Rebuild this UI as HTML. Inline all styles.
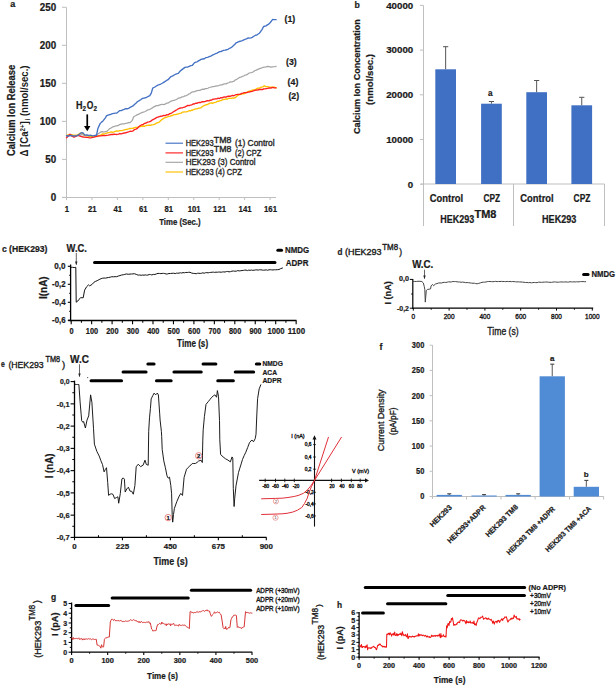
<!DOCTYPE html>
<html><head><meta charset="utf-8"><style>
html,body{margin:0;padding:0;background:#fff;}
svg{display:block;font-family:"Liberation Sans", sans-serif;}
</style></head><body>
<svg width="616" height="685" viewBox="0 0 616 685">
<rect width="616" height="685" fill="#fff"/>
<text x="10.3" y="7.4" font-size="9" font-weight="bold" text-anchor="start" fill="#1a1a1a" stroke="#1a1a1a" stroke-width="0.22">a</text>
<line x1="66.50" y1="7.30" x2="66.50" y2="197.50" stroke="#BFBFBF" stroke-width="1" stroke-linecap="butt"/>
<line x1="62.00" y1="197.50" x2="276.00" y2="197.50" stroke="#BFBFBF" stroke-width="1" stroke-linecap="butt"/>
<line x1="62.00" y1="197.40" x2="66.50" y2="197.40" stroke="#BFBFBF" stroke-width="1" stroke-linecap="butt"/>
<text x="56.2" y="201.0" font-size="10" font-weight="bold" text-anchor="end" fill="#1a1a1a" textLength="5.45" lengthAdjust="spacingAndGlyphs" stroke="#1a1a1a" stroke-width="0.22">0</text>
<line x1="62.00" y1="159.38" x2="66.50" y2="159.38" stroke="#BFBFBF" stroke-width="1" stroke-linecap="butt"/>
<text x="56.2" y="162.98" font-size="10" font-weight="bold" text-anchor="end" fill="#1a1a1a" textLength="10.9" lengthAdjust="spacingAndGlyphs" stroke="#1a1a1a" stroke-width="0.22">50</text>
<line x1="62.00" y1="121.36" x2="66.50" y2="121.36" stroke="#BFBFBF" stroke-width="1" stroke-linecap="butt"/>
<text x="56.2" y="124.96000000000001" font-size="10" font-weight="bold" text-anchor="end" fill="#1a1a1a" textLength="16.35" lengthAdjust="spacingAndGlyphs" stroke="#1a1a1a" stroke-width="0.22">100</text>
<line x1="62.00" y1="83.34" x2="66.50" y2="83.34" stroke="#BFBFBF" stroke-width="1" stroke-linecap="butt"/>
<text x="56.2" y="86.94000000000001" font-size="10" font-weight="bold" text-anchor="end" fill="#1a1a1a" textLength="16.35" lengthAdjust="spacingAndGlyphs" stroke="#1a1a1a" stroke-width="0.22">150</text>
<line x1="62.00" y1="45.32" x2="66.50" y2="45.32" stroke="#BFBFBF" stroke-width="1" stroke-linecap="butt"/>
<text x="56.2" y="48.92000000000002" font-size="10" font-weight="bold" text-anchor="end" fill="#1a1a1a" textLength="16.35" lengthAdjust="spacingAndGlyphs" stroke="#1a1a1a" stroke-width="0.22">200</text>
<line x1="62.00" y1="7.30" x2="66.50" y2="7.30" stroke="#BFBFBF" stroke-width="1" stroke-linecap="butt"/>
<text x="56.2" y="10.900000000000011" font-size="10" font-weight="bold" text-anchor="end" fill="#1a1a1a" textLength="16.35" lengthAdjust="spacingAndGlyphs" stroke="#1a1a1a" stroke-width="0.22">250</text>
<line x1="66.50" y1="197.50" x2="66.50" y2="200.00" stroke="#BFBFBF" stroke-width="1" stroke-linecap="butt"/>
<text x="66.9" y="212" font-size="8.4" font-weight="bold" text-anchor="middle" fill="#1a1a1a" textLength="4.3" lengthAdjust="spacingAndGlyphs" stroke="#1a1a1a" stroke-width="0.22">1</text>
<line x1="91.95" y1="197.50" x2="91.95" y2="200.00" stroke="#BFBFBF" stroke-width="1" stroke-linecap="butt"/>
<text x="92.35000000000001" y="212" font-size="8.4" font-weight="bold" text-anchor="middle" fill="#1a1a1a" textLength="8.6" lengthAdjust="spacingAndGlyphs" stroke="#1a1a1a" stroke-width="0.22">21</text>
<line x1="117.40" y1="197.50" x2="117.40" y2="200.00" stroke="#BFBFBF" stroke-width="1" stroke-linecap="butt"/>
<text x="117.80000000000001" y="212" font-size="8.4" font-weight="bold" text-anchor="middle" fill="#1a1a1a" textLength="8.6" lengthAdjust="spacingAndGlyphs" stroke="#1a1a1a" stroke-width="0.22">41</text>
<line x1="142.85" y1="197.50" x2="142.85" y2="200.00" stroke="#BFBFBF" stroke-width="1" stroke-linecap="butt"/>
<text x="143.25" y="212" font-size="8.4" font-weight="bold" text-anchor="middle" fill="#1a1a1a" textLength="8.6" lengthAdjust="spacingAndGlyphs" stroke="#1a1a1a" stroke-width="0.22">61</text>
<line x1="168.30" y1="197.50" x2="168.30" y2="200.00" stroke="#BFBFBF" stroke-width="1" stroke-linecap="butt"/>
<text x="168.70000000000002" y="212" font-size="8.4" font-weight="bold" text-anchor="middle" fill="#1a1a1a" textLength="8.6" lengthAdjust="spacingAndGlyphs" stroke="#1a1a1a" stroke-width="0.22">81</text>
<line x1="193.75" y1="197.50" x2="193.75" y2="200.00" stroke="#BFBFBF" stroke-width="1" stroke-linecap="butt"/>
<text x="194.15" y="212" font-size="8.4" font-weight="bold" text-anchor="middle" fill="#1a1a1a" textLength="12.899999999999999" lengthAdjust="spacingAndGlyphs" stroke="#1a1a1a" stroke-width="0.22">101</text>
<line x1="219.20" y1="197.50" x2="219.20" y2="200.00" stroke="#BFBFBF" stroke-width="1" stroke-linecap="butt"/>
<text x="219.6" y="212" font-size="8.4" font-weight="bold" text-anchor="middle" fill="#1a1a1a" textLength="12.899999999999999" lengthAdjust="spacingAndGlyphs" stroke="#1a1a1a" stroke-width="0.22">121</text>
<line x1="244.65" y1="197.50" x2="244.65" y2="200.00" stroke="#BFBFBF" stroke-width="1" stroke-linecap="butt"/>
<text x="245.05" y="212" font-size="8.4" font-weight="bold" text-anchor="middle" fill="#1a1a1a" textLength="12.899999999999999" lengthAdjust="spacingAndGlyphs" stroke="#1a1a1a" stroke-width="0.22">141</text>
<line x1="270.10" y1="197.50" x2="270.10" y2="200.00" stroke="#BFBFBF" stroke-width="1" stroke-linecap="butt"/>
<text x="270.5" y="212" font-size="8.4" font-weight="bold" text-anchor="middle" fill="#1a1a1a" textLength="12.899999999999999" lengthAdjust="spacingAndGlyphs" stroke="#1a1a1a" stroke-width="0.22">161</text>
<text x="179.9" y="224.9" font-size="8.8" font-weight="bold" text-anchor="middle" fill="#1a1a1a" textLength="41.4" lengthAdjust="spacingAndGlyphs" stroke="#1a1a1a" stroke-width="0.22">Time (Sec.)</text>
<text transform="translate(14.9 110.4) rotate(-90)" x="0" y="0" font-size="10.4" font-weight="bold" text-anchor="middle" fill="#1a1a1a" textLength="91" lengthAdjust="spacingAndGlyphs" stroke="#1a1a1a" stroke-width="0.22">Calcium Ion Release</text>
<text transform="translate(28.0 111) rotate(-90)" x="0" y="0" font-size="10.2" font-weight="bold" text-anchor="middle" fill="#1a1a1a" textLength="91" lengthAdjust="spacingAndGlyphs">&#916; [Ca<tspan font-size="6.5" dy="-3.5">2+</tspan><tspan dy="3.5">]</tspan><tspan font-size="6.5" dy="1.8" dx="0.9">i</tspan><tspan dy="-1.8"> (nmol/sec.)</tspan></text>
<text x="76" y="108.8" font-size="10.4" font-weight="bold" text-anchor="start" fill="#1a1a1a" textLength="6.5" lengthAdjust="spacingAndGlyphs" stroke="#1a1a1a" stroke-width="0.22">H</text>
<text x="82.6" y="110.9" font-size="6.4" font-weight="bold" text-anchor="start" fill="#1a1a1a" textLength="3.5" lengthAdjust="spacingAndGlyphs" stroke="#1a1a1a" stroke-width="0.22">2</text>
<text x="86.7" y="108.8" font-size="10.4" font-weight="bold" text-anchor="start" fill="#1a1a1a" textLength="6.6" lengthAdjust="spacingAndGlyphs" stroke="#1a1a1a" stroke-width="0.22">O</text>
<text x="93.5" y="110.9" font-size="6.4" font-weight="bold" text-anchor="start" fill="#1a1a1a" textLength="3.5" lengthAdjust="spacingAndGlyphs" stroke="#1a1a1a" stroke-width="0.22">2</text>
<rect x="86.40" y="114.40" width="1.70" height="11.80" fill="#000"/>
<polygon points="84,125.9 90.4,125.9 87.25,131.3" fill="#000"/>
<polyline points="66.50,135.82 68.25,135.78 70.00,135.41 71.33,135.74 72.67,135.92 74.00,135.70 75.33,135.39 76.67,135.70 78.00,135.03 79.33,134.78 80.67,135.08 82.00,134.48 83.50,135.24 85.00,135.48 86.67,135.70 88.33,135.46 90.00,135.89 91.30,136.00 92.60,135.70 93.90,135.79 95.20,135.68 96.50,135.19 97.20,134.48 99.00,133.26 100.80,131.96 102.28,131.60 103.75,132.01 105.22,131.56 106.70,131.55 108.15,130.17 109.60,128.55 111.05,127.99 112.50,126.93 113.97,126.71 115.43,125.96 116.90,125.80 118.37,125.40 119.83,124.48 121.30,124.15 122.77,123.84 124.23,123.99 125.70,123.26 127.17,123.16 128.63,122.69 130.10,122.61 132.30,120.32 133.70,116.70 135.55,115.76 137.40,114.66 138.87,114.15 140.33,113.26 141.80,112.70 143.23,112.15 144.67,111.74 146.10,111.02 147.57,109.93 149.03,109.69 150.50,109.03 151.97,108.15 153.43,107.08 154.90,106.35 156.37,105.63 157.83,105.70 159.30,105.15 160.77,104.68 162.23,104.26 163.70,104.55 165.17,104.18 166.63,103.08 168.10,103.11 169.55,102.09 171.00,101.16 172.80,100.56 174.60,100.19 176.45,99.51 178.30,98.18 180.15,97.93 182.00,96.88 183.45,96.75 184.90,95.88 186.20,95.57 187.50,94.94 188.80,93.90 190.10,93.55 191.40,92.37 193.00,91.77 194.60,91.70 196.20,90.87 197.50,90.65 198.80,90.46 200.10,90.26 201.40,89.60 202.70,89.18 204.00,89.38 205.30,88.61 206.60,88.68 207.90,88.26 209.20,87.51 210.50,87.25 211.80,86.97 213.10,86.74 214.40,86.39 215.70,86.04 217.00,85.82 218.30,85.79 219.60,85.22 220.90,84.91 222.20,84.85 223.50,84.12 224.80,83.76 226.10,83.83 227.40,83.11 228.70,82.73 230.33,81.92 231.97,81.77 233.60,81.46 235.20,80.00 236.80,79.35 238.40,78.29 239.70,77.31 241.00,77.13 242.30,76.44 243.60,76.01 244.90,75.20 246.20,74.88 247.50,74.35 248.80,73.29 250.10,72.75 251.40,72.62 253.03,72.02 254.65,70.73 256.27,70.07 257.90,69.36 259.53,68.61 261.17,68.07 262.80,67.47 264.43,67.14 266.07,66.93 267.70,66.36 269.30,66.61 270.90,67.09 272.50,66.77 274.30,66.75 276.10,66.46" fill="none" stroke="#A5A5A5" stroke-width="1.25" stroke-linejoin="round" stroke-linecap="round"/>
<polyline points="66.50,135.32 68.25,134.87 70.00,134.73 71.33,134.79 72.67,134.96 74.00,135.43 75.33,135.46 76.67,135.04 78.00,134.69 80.00,133.31 81.50,132.83 83.00,133.34 84.80,135.57 86.10,135.57 87.40,135.70 88.70,136.25 90.00,136.23 91.30,136.33 92.60,136.45 93.90,136.15 95.20,136.35 96.50,136.69 97.95,136.19 99.40,135.70 100.85,135.14 102.30,134.01 103.76,134.01 105.22,133.70 106.68,133.22 108.14,132.63 109.60,132.48 111.06,131.93 112.52,132.24 113.98,131.92 115.44,131.41 116.90,130.96 118.36,131.15 119.82,130.67 121.28,130.65 122.74,130.38 124.20,129.91 125.67,129.54 127.15,129.37 128.62,128.95 130.10,128.46 131.55,128.31 133.00,128.42 134.45,127.63 135.90,127.38 137.38,127.44 138.85,126.85 140.33,126.67 141.80,126.28 143.25,125.99 144.70,126.25 146.15,125.49 147.60,125.44 149.05,125.12 150.50,125.24 151.95,124.82 153.40,124.70 154.90,124.22 156.40,123.17 157.85,122.64 159.30,122.18 160.75,120.52 162.20,119.39 163.65,118.41 165.10,117.69 166.57,117.25 168.03,116.65 169.50,116.38 170.97,115.77 172.43,115.47 173.90,114.68 175.37,114.64 176.83,114.28 178.30,113.82 179.77,113.30 181.23,113.09 182.70,112.06 184.60,111.80 186.50,111.83 187.80,111.35 189.10,110.76 190.40,110.79 191.70,110.22 193.00,110.02 194.30,109.34 195.60,108.94 196.90,108.80 198.20,108.27 199.50,108.12 200.80,107.88 202.10,106.80 203.40,105.94 204.70,105.32 206.00,104.77 207.33,104.63 208.67,103.77 210.00,103.15 211.43,102.82 212.85,103.24 214.27,102.65 215.70,102.30 217.00,101.71 218.30,101.23 219.60,100.83 220.90,100.70 222.20,99.85 223.50,99.46 224.80,99.45 226.10,98.96 227.40,99.17 228.70,98.24 230.00,98.36 231.30,98.37 232.60,97.96 233.90,98.20 235.20,97.68 236.80,96.27 238.40,95.14 239.70,94.46 241.00,94.30 242.30,93.76 243.60,93.79 244.90,93.33 246.53,92.47 248.17,91.51 249.80,91.03 251.10,90.62 252.40,90.20 253.70,89.81 255.00,89.86 256.30,88.95 257.93,88.19 259.57,88.10 261.20,87.15 262.80,86.89 264.40,85.93 266.05,86.58 267.70,86.71 269.30,87.05 270.90,87.27 272.20,87.22 273.50,87.07 274.80,87.27 276.10,87.86" fill="none" stroke="#FFC000" stroke-width="1.35" stroke-linejoin="round" stroke-linecap="round"/>
<polyline points="66.50,137.82 68.00,136.31 70.00,134.19 72.00,136.21 74.00,137.23 75.50,136.42 77.00,135.62 78.50,135.62 80.00,136.07 81.60,136.54 83.20,136.99 84.80,137.16 86.10,137.38 87.40,137.38 88.70,137.63 90.00,137.85 91.33,137.71 92.67,137.33 94.00,137.16 96.50,136.44 97.95,136.05 99.40,135.82 100.85,135.90 102.30,135.57 103.76,135.48 105.22,135.69 106.68,135.30 108.14,135.18 109.60,134.82 111.07,134.49 112.55,134.53 114.03,134.22 115.50,134.31 116.95,134.47 118.40,134.07 119.85,133.55 121.30,133.88 122.75,133.43 124.20,133.01 125.65,132.76 127.10,132.28 128.57,131.93 130.05,131.25 131.53,131.31 133.00,130.92 134.47,129.56 135.93,129.18 137.40,128.35 138.85,126.82 140.30,125.52 141.77,124.76 143.23,124.33 144.70,123.30 146.15,122.98 147.60,122.10 149.05,121.92 150.50,121.38 151.97,120.17 153.45,119.35 154.93,118.69 156.40,117.66 157.85,117.12 159.30,116.56 160.75,116.25 162.20,116.14 163.67,115.42 165.15,115.59 166.62,114.79 168.10,114.89 169.53,113.73 170.97,113.45 172.40,112.54 173.88,111.48 175.35,110.56 176.83,109.73 178.30,108.76 179.77,108.23 181.23,107.83 182.70,107.71 184.60,107.20 186.50,106.19 187.80,105.42 189.10,105.56 190.40,105.12 191.70,104.87 193.00,103.98 194.30,104.03 195.60,103.21 196.90,103.29 198.20,102.68 199.50,102.31 200.85,102.50 202.20,101.69 203.55,101.72 204.90,101.68 206.25,100.99 207.60,100.70 208.90,100.85 210.20,100.21 211.50,100.09 212.80,99.29 214.10,99.20 215.45,98.80 216.80,98.89 218.15,98.21 219.50,98.55 220.85,97.63 222.20,97.86 223.50,97.10 224.80,97.01 226.10,97.14 227.40,96.42 228.70,96.18 230.00,96.29 231.30,95.84 232.60,95.36 233.90,95.78 235.20,94.96 236.50,94.56 237.80,94.45 239.10,94.32 240.40,94.09 241.70,93.33 243.00,93.17 244.30,92.63 245.60,92.60 246.90,92.51 248.20,92.17 249.50,91.96 250.80,91.54 252.10,91.29 253.40,90.86 254.70,90.38 256.00,90.03 257.30,90.15 258.60,89.73 259.90,89.40 261.20,89.46 262.50,89.54 263.80,88.80 265.10,88.90 266.40,88.55 267.70,88.41 269.30,87.88 270.90,88.19 272.50,87.43 274.30,87.82 276.10,87.84" fill="none" stroke="#FF2020" stroke-width="1.35" stroke-linejoin="round" stroke-linecap="round"/>
<polyline points="66.50,135.74 68.25,135.99 70.00,135.68 71.33,135.50 72.67,135.83 74.00,135.96 75.33,135.94 76.67,135.87 78.00,135.22 80.00,133.67 81.50,132.74 83.00,132.95 84.80,135.18 86.40,134.80 88.00,135.26 89.33,135.52 90.67,135.24 92.00,135.81 93.50,135.85 95.00,135.30 96.50,135.37 97.90,128.43 100.10,123.61 101.55,122.12 103.00,120.90 105.20,118.15 106.70,115.67 108.15,115.11 109.60,114.56 111.07,114.23 112.53,113.68 114.00,113.31 115.45,113.10 116.90,113.07 118.35,111.85 119.80,110.57 121.27,110.57 122.73,109.81 124.20,109.30 125.67,108.61 127.15,108.79 128.62,108.33 130.10,107.43 131.55,106.63 133.00,105.96 134.45,104.50 135.90,103.21 137.35,101.75 138.80,100.93 140.65,99.72 142.50,98.36 143.97,98.06 145.43,97.77 146.90,97.24 148.35,96.30 149.80,95.66 151.30,93.07 152.70,88.12 154.90,87.01 156.37,86.01 157.83,85.10 159.30,84.63 160.77,84.01 162.23,83.26 163.70,82.31 165.17,81.39 166.63,80.47 168.10,79.69 169.55,78.06 171.00,76.53 172.80,75.84 174.60,74.77 176.45,73.83 178.30,73.34 180.00,71.24 181.63,69.87 183.27,68.63 184.90,67.37 186.36,67.12 187.82,66.98 189.28,66.35 190.74,65.71 192.20,65.45 194.60,62.61 195.90,62.15 197.20,61.80 198.50,60.87 199.80,60.13 201.10,59.34 202.73,59.00 204.37,58.75 206.00,57.55 207.60,57.40 209.20,56.72 210.80,56.07 212.43,55.20 214.07,54.48 215.70,53.51 217.00,53.02 218.30,52.41 219.60,51.63 220.90,51.68 222.20,50.95 223.62,50.31 225.05,50.15 226.47,49.76 227.90,49.30 229.23,48.49 230.57,47.83 231.90,47.09 233.27,45.85 234.63,44.50 236.00,42.97 237.37,42.41 238.73,41.67 240.10,41.26 241.70,40.79 243.30,40.08 244.90,39.41 246.55,38.87 248.20,37.93 249.53,38.17 250.87,37.89 252.20,37.31 253.85,36.26 255.50,35.26 256.83,35.08 258.17,34.02 259.50,33.23 262.00,29.59 263.60,26.49 266.00,25.90 267.37,24.90 268.73,24.09 270.10,22.77 272.50,19.54 274.20,19.55 276.10,19.67" fill="none" stroke="#4472C4" stroke-width="1.35" stroke-linejoin="round" stroke-linecap="round"/>
<text x="284.6" y="21.6" font-size="8.8" font-weight="bold" text-anchor="start" fill="#1a1a1a" textLength="10.7" lengthAdjust="spacingAndGlyphs" stroke="#1a1a1a" stroke-width="0.22">(1)</text>
<text x="286.1" y="65.4" font-size="8.8" font-weight="bold" text-anchor="start" fill="#1a1a1a" textLength="10.7" lengthAdjust="spacingAndGlyphs" stroke="#1a1a1a" stroke-width="0.22">(3)</text>
<text x="287.6" y="84.6" font-size="8.8" font-weight="bold" text-anchor="start" fill="#1a1a1a" textLength="10.8" lengthAdjust="spacingAndGlyphs" stroke="#1a1a1a" stroke-width="0.22">(4)</text>
<text x="288.4" y="99.2" font-size="8.8" font-weight="bold" text-anchor="start" fill="#1a1a1a" textLength="10.7" lengthAdjust="spacingAndGlyphs" stroke="#1a1a1a" stroke-width="0.22">(2)</text>
<line x1="165.50" y1="143.20" x2="183.00" y2="143.20" stroke="#4472C4" stroke-width="1.15" stroke-linecap="butt"/>
<line x1="165.50" y1="152.90" x2="183.00" y2="152.90" stroke="#FF2020" stroke-width="1.15" stroke-linecap="butt"/>
<line x1="165.50" y1="162.30" x2="183.00" y2="162.30" stroke="#A5A5A5" stroke-width="1.15" stroke-linecap="butt"/>
<line x1="165.50" y1="172.00" x2="183.00" y2="172.00" stroke="#FFC000" stroke-width="1.15" stroke-linecap="butt"/>
<text x="185.7" y="146.1" font-size="8.6" font-weight="normal" text-anchor="start" fill="#262626" textLength="27.9" lengthAdjust="spacingAndGlyphs" stroke="#262626" stroke-width="0.35">HEK293</text>
<text x="213.8" y="142.6" font-size="8.4" font-weight="normal" text-anchor="start" fill="#262626" textLength="17.6" lengthAdjust="spacingAndGlyphs" stroke="#262626" stroke-width="0.35">TM8</text>
<text x="235" y="146.1" font-size="8.6" font-weight="normal" text-anchor="start" fill="#262626" textLength="39.6" lengthAdjust="spacingAndGlyphs" stroke="#262626" stroke-width="0.35">(1) Control</text>
<text x="185.7" y="155.6" font-size="8.6" font-weight="normal" text-anchor="start" fill="#262626" textLength="27.9" lengthAdjust="spacingAndGlyphs" stroke="#262626" stroke-width="0.35">HEK293</text>
<text x="213.8" y="152.1" font-size="8.4" font-weight="normal" text-anchor="start" fill="#262626" textLength="17.6" lengthAdjust="spacingAndGlyphs" stroke="#262626" stroke-width="0.35">TM8</text>
<text x="235" y="155.6" font-size="8.6" font-weight="normal" text-anchor="start" fill="#262626" textLength="26.3" lengthAdjust="spacingAndGlyphs" stroke="#262626" stroke-width="0.35">(2) CPZ</text>
<text x="185.7" y="165.2" font-size="8.6" font-weight="normal" text-anchor="start" fill="#262626" textLength="69.8" lengthAdjust="spacingAndGlyphs" stroke="#262626" stroke-width="0.35">HEK293 (3) Control</text>
<text x="185.7" y="174.6" font-size="8.6" font-weight="normal" text-anchor="start" fill="#262626" textLength="56.1" lengthAdjust="spacingAndGlyphs" stroke="#262626" stroke-width="0.35">HEK293 (4) CPZ</text>
<text x="354.5" y="7.7" font-size="9.4" font-weight="bold" text-anchor="start" fill="#1a1a1a" textLength="5.3" lengthAdjust="spacingAndGlyphs" stroke="#1a1a1a" stroke-width="0.22">b</text>
<line x1="423.50" y1="5.50" x2="423.50" y2="226.00" stroke="#BFBFBF" stroke-width="1" stroke-linecap="butt"/>
<line x1="421.00" y1="184.00" x2="604.50" y2="184.00" stroke="#BFBFBF" stroke-width="1" stroke-linecap="butt"/>
<line x1="513.50" y1="184.00" x2="513.50" y2="226.00" stroke="#BFBFBF" stroke-width="1" stroke-linecap="butt"/>
<line x1="604.50" y1="184.00" x2="604.50" y2="226.00" stroke="#BFBFBF" stroke-width="1" stroke-linecap="butt"/>
<line x1="419.90" y1="184.20" x2="423.50" y2="184.20" stroke="#BFBFBF" stroke-width="1" stroke-linecap="butt"/>
<text x="413.3" y="187.5" font-size="9.5" font-weight="bold" text-anchor="end" fill="#1a1a1a" textLength="5.42" lengthAdjust="spacingAndGlyphs" stroke="#1a1a1a" stroke-width="0.22">0</text>
<line x1="419.90" y1="139.50" x2="423.50" y2="139.50" stroke="#BFBFBF" stroke-width="1" stroke-linecap="butt"/>
<text x="413.3" y="142.8" font-size="9.5" font-weight="bold" text-anchor="end" fill="#1a1a1a" textLength="27.1" lengthAdjust="spacingAndGlyphs" stroke="#1a1a1a" stroke-width="0.22">10000</text>
<line x1="419.90" y1="94.80" x2="423.50" y2="94.80" stroke="#BFBFBF" stroke-width="1" stroke-linecap="butt"/>
<text x="413.3" y="98.09999999999998" font-size="9.5" font-weight="bold" text-anchor="end" fill="#1a1a1a" textLength="27.1" lengthAdjust="spacingAndGlyphs" stroke="#1a1a1a" stroke-width="0.22">20000</text>
<line x1="419.90" y1="50.10" x2="423.50" y2="50.10" stroke="#BFBFBF" stroke-width="1" stroke-linecap="butt"/>
<text x="413.3" y="53.39999999999996" font-size="9.5" font-weight="bold" text-anchor="end" fill="#1a1a1a" textLength="27.1" lengthAdjust="spacingAndGlyphs" stroke="#1a1a1a" stroke-width="0.22">30000</text>
<line x1="419.90" y1="5.40" x2="423.50" y2="5.40" stroke="#BFBFBF" stroke-width="1" stroke-linecap="butt"/>
<text x="413.3" y="8.699999999999978" font-size="9.5" font-weight="bold" text-anchor="end" fill="#1a1a1a" textLength="27.1" lengthAdjust="spacingAndGlyphs" stroke="#1a1a1a" stroke-width="0.22">40000</text>
<rect x="435.30" y="69.30" width="20.70" height="114.70" fill="#4070C4"/>
<line x1="445.65" y1="69.30" x2="445.65" y2="46.70" stroke="#555" stroke-width="1" stroke-linecap="butt"/>
<line x1="443.05" y1="46.70" x2="448.25" y2="46.70" stroke="#555" stroke-width="1" stroke-linecap="butt"/>
<rect x="481.10" y="103.70" width="20.70" height="80.30" fill="#4070C4"/>
<line x1="491.45" y1="103.70" x2="491.45" y2="101.50" stroke="#555" stroke-width="1" stroke-linecap="butt"/>
<line x1="488.85" y1="101.50" x2="494.05" y2="101.50" stroke="#555" stroke-width="1" stroke-linecap="butt"/>
<rect x="526.30" y="92.20" width="20.70" height="91.80" fill="#4070C4"/>
<line x1="536.65" y1="92.20" x2="536.65" y2="80.50" stroke="#555" stroke-width="1" stroke-linecap="butt"/>
<line x1="534.05" y1="80.50" x2="539.25" y2="80.50" stroke="#555" stroke-width="1" stroke-linecap="butt"/>
<rect x="571.40" y="105.30" width="20.70" height="78.70" fill="#4070C4"/>
<line x1="581.75" y1="105.30" x2="581.75" y2="97.30" stroke="#555" stroke-width="1" stroke-linecap="butt"/>
<line x1="579.15" y1="97.30" x2="584.35" y2="97.30" stroke="#555" stroke-width="1" stroke-linecap="butt"/>
<text x="490.2" y="95.6" font-size="8.2" font-weight="bold" text-anchor="middle" fill="#1a1a1a" stroke="#1a1a1a" stroke-width="0.22">a</text>
<text x="429.8" y="201.9" font-size="10.0" font-weight="bold" text-anchor="start" fill="#1a1a1a" textLength="33.3" lengthAdjust="spacingAndGlyphs" stroke="#1a1a1a" stroke-width="0.22">Control</text>
<text x="483.4" y="201.9" font-size="10.0" font-weight="bold" text-anchor="start" fill="#1a1a1a" textLength="16.6" lengthAdjust="spacingAndGlyphs" stroke="#1a1a1a" stroke-width="0.22">CPZ</text>
<text x="520.3" y="201.9" font-size="10.0" font-weight="bold" text-anchor="start" fill="#1a1a1a" textLength="33.3" lengthAdjust="spacingAndGlyphs" stroke="#1a1a1a" stroke-width="0.22">Control</text>
<text x="573.6" y="201.9" font-size="10.0" font-weight="bold" text-anchor="start" fill="#1a1a1a" textLength="16.8" lengthAdjust="spacingAndGlyphs" stroke="#1a1a1a" stroke-width="0.22">CPZ</text>
<text x="440.3" y="223.0" font-size="10.0" font-weight="bold" text-anchor="start" fill="#1a1a1a" textLength="34" lengthAdjust="spacingAndGlyphs" stroke="#1a1a1a" stroke-width="0.22">HEK293</text>
<text x="474.5" y="217.6" font-size="10.0" font-weight="bold" text-anchor="start" fill="#1a1a1a" textLength="21.9" lengthAdjust="spacingAndGlyphs" stroke="#1a1a1a" stroke-width="0.22">TM8</text>
<text x="542" y="223.0" font-size="10.0" font-weight="bold" text-anchor="start" fill="#1a1a1a" textLength="34.4" lengthAdjust="spacingAndGlyphs" stroke="#1a1a1a" stroke-width="0.22">HEK293</text>
<text transform="translate(360.2 76.6) rotate(-90)" x="0" y="0" font-size="9.6" font-weight="bold" text-anchor="middle" fill="#1a1a1a" textLength="114.9" lengthAdjust="spacingAndGlyphs" stroke="#1a1a1a" stroke-width="0.22">Calcium Ion Concentration</text>
<text transform="translate(373.4 79.4) rotate(-90)" x="0" y="0" font-size="9.6" font-weight="bold" text-anchor="middle" fill="#1a1a1a" textLength="51" lengthAdjust="spacingAndGlyphs" stroke="#1a1a1a" stroke-width="0.22">(nmol/sec.)</text>
<text x="1.9" y="251.8" font-size="9.4" font-weight="bold" text-anchor="start" fill="#1a1a1a" textLength="45.5" lengthAdjust="spacingAndGlyphs" stroke="#1a1a1a" stroke-width="0.22">c (HEK293)</text>
<text x="66.6" y="251.8" font-size="10" font-weight="bold" text-anchor="start" fill="#1a1a1a" textLength="20.3" lengthAdjust="spacingAndGlyphs" stroke="#1a1a1a" stroke-width="0.22">W.C.</text>
<line x1="76.30" y1="252.90" x2="76.30" y2="264.50" stroke="#222" stroke-width="0.7" stroke-linecap="butt"/>
<polygon points="75.1,261.5 77.5,261.5 76.3,265.3" fill="#222"/>
<line x1="70.60" y1="264.50" x2="70.60" y2="321.20" stroke="#000" stroke-width="1.3" stroke-linecap="butt"/>
<line x1="68.30" y1="320.50" x2="296.50" y2="320.50" stroke="#000" stroke-width="1.3" stroke-linecap="butt"/>
<line x1="67.80" y1="266.30" x2="70.60" y2="266.30" stroke="#000" stroke-width="1.1" stroke-linecap="butt"/>
<line x1="69.20" y1="275.30" x2="70.60" y2="275.30" stroke="#000" stroke-width="1" stroke-linecap="butt"/>
<line x1="67.80" y1="284.30" x2="70.60" y2="284.30" stroke="#000" stroke-width="1.1" stroke-linecap="butt"/>
<line x1="69.20" y1="293.30" x2="70.60" y2="293.30" stroke="#000" stroke-width="1" stroke-linecap="butt"/>
<line x1="67.80" y1="302.30" x2="70.60" y2="302.30" stroke="#000" stroke-width="1.1" stroke-linecap="butt"/>
<line x1="69.20" y1="311.30" x2="70.60" y2="311.30" stroke="#000" stroke-width="1" stroke-linecap="butt"/>
<line x1="67.80" y1="320.30" x2="70.60" y2="320.30" stroke="#000" stroke-width="1.1" stroke-linecap="butt"/>
<text x="65.6" y="269.3" font-size="8.6" font-weight="bold" text-anchor="end" fill="#1a1a1a" textLength="11.3" lengthAdjust="spacingAndGlyphs" stroke="#1a1a1a" stroke-width="0.22">0,0</text>
<text x="65.6" y="287.3" font-size="8.6" font-weight="bold" text-anchor="end" fill="#1a1a1a" textLength="13.5" lengthAdjust="spacingAndGlyphs" stroke="#1a1a1a" stroke-width="0.22">-0,2</text>
<text x="65.6" y="305.3" font-size="8.6" font-weight="bold" text-anchor="end" fill="#1a1a1a" textLength="13.5" lengthAdjust="spacingAndGlyphs" stroke="#1a1a1a" stroke-width="0.22">-0,4</text>
<text x="65.6" y="323.3" font-size="8.6" font-weight="bold" text-anchor="end" fill="#1a1a1a" textLength="13.5" lengthAdjust="spacingAndGlyphs" stroke="#1a1a1a" stroke-width="0.22">-0,6</text>
<line x1="71.20" y1="320.50" x2="71.20" y2="324.20" stroke="#000" stroke-width="1.1" stroke-linecap="butt"/>
<line x1="81.42" y1="320.50" x2="81.42" y2="322.80" stroke="#000" stroke-width="1" stroke-linecap="butt"/>
<text x="71.5" y="334.1" font-size="8.5" font-weight="bold" text-anchor="middle" fill="#1a1a1a" textLength="4.1" lengthAdjust="spacingAndGlyphs" stroke="#1a1a1a" stroke-width="0.22">0</text>
<line x1="91.65" y1="320.50" x2="91.65" y2="324.20" stroke="#000" stroke-width="1.1" stroke-linecap="butt"/>
<line x1="101.87" y1="320.50" x2="101.87" y2="322.80" stroke="#000" stroke-width="1" stroke-linecap="butt"/>
<text x="91.95" y="334.1" font-size="8.5" font-weight="bold" text-anchor="middle" fill="#1a1a1a" textLength="12.299999999999999" lengthAdjust="spacingAndGlyphs" stroke="#1a1a1a" stroke-width="0.22">100</text>
<line x1="112.10" y1="320.50" x2="112.10" y2="324.20" stroke="#000" stroke-width="1.1" stroke-linecap="butt"/>
<line x1="122.32" y1="320.50" x2="122.32" y2="322.80" stroke="#000" stroke-width="1" stroke-linecap="butt"/>
<text x="112.39999999999999" y="334.1" font-size="8.5" font-weight="bold" text-anchor="middle" fill="#1a1a1a" textLength="12.299999999999999" lengthAdjust="spacingAndGlyphs" stroke="#1a1a1a" stroke-width="0.22">200</text>
<line x1="132.55" y1="320.50" x2="132.55" y2="324.20" stroke="#000" stroke-width="1.1" stroke-linecap="butt"/>
<line x1="142.77" y1="320.50" x2="142.77" y2="322.80" stroke="#000" stroke-width="1" stroke-linecap="butt"/>
<text x="132.85000000000002" y="334.1" font-size="8.5" font-weight="bold" text-anchor="middle" fill="#1a1a1a" textLength="12.299999999999999" lengthAdjust="spacingAndGlyphs" stroke="#1a1a1a" stroke-width="0.22">300</text>
<line x1="153.00" y1="320.50" x2="153.00" y2="324.20" stroke="#000" stroke-width="1.1" stroke-linecap="butt"/>
<line x1="163.22" y1="320.50" x2="163.22" y2="322.80" stroke="#000" stroke-width="1" stroke-linecap="butt"/>
<text x="153.3" y="334.1" font-size="8.5" font-weight="bold" text-anchor="middle" fill="#1a1a1a" textLength="12.299999999999999" lengthAdjust="spacingAndGlyphs" stroke="#1a1a1a" stroke-width="0.22">400</text>
<line x1="173.45" y1="320.50" x2="173.45" y2="324.20" stroke="#000" stroke-width="1.1" stroke-linecap="butt"/>
<line x1="183.67" y1="320.50" x2="183.67" y2="322.80" stroke="#000" stroke-width="1" stroke-linecap="butt"/>
<text x="173.75" y="334.1" font-size="8.5" font-weight="bold" text-anchor="middle" fill="#1a1a1a" textLength="12.299999999999999" lengthAdjust="spacingAndGlyphs" stroke="#1a1a1a" stroke-width="0.22">500</text>
<line x1="193.90" y1="320.50" x2="193.90" y2="324.20" stroke="#000" stroke-width="1.1" stroke-linecap="butt"/>
<line x1="204.12" y1="320.50" x2="204.12" y2="322.80" stroke="#000" stroke-width="1" stroke-linecap="butt"/>
<text x="194.2" y="334.1" font-size="8.5" font-weight="bold" text-anchor="middle" fill="#1a1a1a" textLength="12.299999999999999" lengthAdjust="spacingAndGlyphs" stroke="#1a1a1a" stroke-width="0.22">600</text>
<line x1="214.35" y1="320.50" x2="214.35" y2="324.20" stroke="#000" stroke-width="1.1" stroke-linecap="butt"/>
<line x1="224.57" y1="320.50" x2="224.57" y2="322.80" stroke="#000" stroke-width="1" stroke-linecap="butt"/>
<text x="214.65000000000003" y="334.1" font-size="8.5" font-weight="bold" text-anchor="middle" fill="#1a1a1a" textLength="12.299999999999999" lengthAdjust="spacingAndGlyphs" stroke="#1a1a1a" stroke-width="0.22">700</text>
<line x1="234.80" y1="320.50" x2="234.80" y2="324.20" stroke="#000" stroke-width="1.1" stroke-linecap="butt"/>
<line x1="245.02" y1="320.50" x2="245.02" y2="322.80" stroke="#000" stroke-width="1" stroke-linecap="butt"/>
<text x="235.10000000000002" y="334.1" font-size="8.5" font-weight="bold" text-anchor="middle" fill="#1a1a1a" textLength="12.299999999999999" lengthAdjust="spacingAndGlyphs" stroke="#1a1a1a" stroke-width="0.22">800</text>
<line x1="255.25" y1="320.50" x2="255.25" y2="324.20" stroke="#000" stroke-width="1.1" stroke-linecap="butt"/>
<line x1="265.47" y1="320.50" x2="265.47" y2="322.80" stroke="#000" stroke-width="1" stroke-linecap="butt"/>
<text x="255.55" y="334.1" font-size="8.5" font-weight="bold" text-anchor="middle" fill="#1a1a1a" textLength="12.299999999999999" lengthAdjust="spacingAndGlyphs" stroke="#1a1a1a" stroke-width="0.22">900</text>
<line x1="275.70" y1="320.50" x2="275.70" y2="324.20" stroke="#000" stroke-width="1.1" stroke-linecap="butt"/>
<line x1="285.92" y1="320.50" x2="285.92" y2="322.80" stroke="#000" stroke-width="1" stroke-linecap="butt"/>
<text x="276.0" y="334.1" font-size="8.5" font-weight="bold" text-anchor="middle" fill="#1a1a1a" textLength="17.2" lengthAdjust="spacingAndGlyphs" stroke="#1a1a1a" stroke-width="0.22">1000</text>
<line x1="296.15" y1="320.50" x2="296.15" y2="324.20" stroke="#000" stroke-width="1.1" stroke-linecap="butt"/>
<text x="296.45" y="334.1" font-size="8.5" font-weight="bold" text-anchor="middle" fill="#1a1a1a" textLength="17.2" lengthAdjust="spacingAndGlyphs" stroke="#1a1a1a" stroke-width="0.22">1100</text>
<text x="192.6" y="346.9" font-size="10.4" font-weight="bold" text-anchor="middle" fill="#1a1a1a" textLength="31" lengthAdjust="spacingAndGlyphs" stroke="#1a1a1a" stroke-width="0.22">Time (s)</text>
<text transform="translate(47.4 287.7) rotate(-90)" x="0" y="0" font-size="10.8" font-weight="bold" text-anchor="middle" fill="#1a1a1a" textLength="22.7" lengthAdjust="spacingAndGlyphs" stroke="#1a1a1a" stroke-width="0.22">I(nA)</text>
<line x1="94.55" y1="262.50" x2="274.95" y2="262.50" stroke="#000" stroke-width="3" stroke-linecap="round"/>
<line x1="277.85" y1="250.20" x2="281.55" y2="250.20" stroke="#000" stroke-width="3" stroke-linecap="round"/>
<text x="285" y="253.3" font-size="9.5" font-weight="bold" text-anchor="start" fill="#1a1a1a" textLength="24.2" lengthAdjust="spacingAndGlyphs" stroke="#1a1a1a" stroke-width="0.22">NMDG</text>
<text x="285.8" y="265.5" font-size="9.5" font-weight="bold" text-anchor="start" fill="#1a1a1a" textLength="22.6" lengthAdjust="spacingAndGlyphs" stroke="#1a1a1a" stroke-width="0.22">ADPR</text>
<polyline points="70.90,267.27 72.53,267.34 74.17,267.55 75.80,267.28 76.20,302.20 77.80,301.05 79.00,299.31 80.70,297.71 83.20,297.78 84.60,290.18 86.60,286.76 88.50,284.88 89.50,285.75 90.95,285.19 92.40,284.12 93.85,282.33 95.30,281.49 97.20,280.68 99.15,279.59 101.10,278.67 102.57,278.24 104.05,278.01 105.53,278.17 107.00,277.74 108.60,277.48 110.20,277.18 111.80,276.72 113.43,276.81 115.07,276.63 116.70,276.71 118.33,276.01 119.97,275.58 121.60,275.00 123.20,274.80 124.80,274.37 126.40,273.97 128.20,274.25 130.00,274.10 131.43,274.00 132.87,273.92 134.30,273.69 136.25,274.39 138.20,275.17 139.65,274.97 141.10,275.31 142.55,275.02 144.00,275.21 145.30,274.88 146.60,275.17 147.90,275.06 149.20,274.50 150.50,274.58 151.80,274.95 153.36,274.42 154.92,274.47 156.48,273.86 158.04,273.40 159.60,273.48 160.90,273.63 162.20,273.40 163.50,273.35 164.80,273.57 166.10,274.01 167.40,273.95 168.96,273.49 170.52,273.49 172.08,273.32 173.64,273.22 175.20,273.58 176.50,273.11 177.80,273.24 179.10,273.07 180.40,272.81 181.70,273.04 183.00,272.58 184.40,272.81 185.80,272.41 187.20,272.51 188.60,272.31 190.00,272.26 191.63,273.08 193.27,273.38 194.90,273.48 196.23,273.74 197.55,273.24 198.88,273.26 200.21,273.45 201.54,273.23 202.86,272.81 204.19,273.26 205.52,272.70 206.85,272.64 208.17,272.85 209.50,272.50 210.80,272.41 212.10,272.21 213.40,272.15 214.70,272.38 216.00,272.11 217.30,272.26 218.60,272.06 219.90,272.04 221.20,272.28 222.50,271.92 223.80,271.91 225.10,272.02 226.40,271.54 227.70,271.46 229.00,271.85 230.46,271.65 231.93,271.17 233.39,271.00 234.85,271.19 236.31,271.18 237.77,270.59 239.24,270.91 240.70,270.73 242.05,270.52 243.39,270.38 244.74,270.15 246.08,270.07 247.43,270.59 248.78,270.11 250.12,270.35 251.47,270.05 252.82,270.35 254.16,270.17 255.51,269.95 256.85,269.84 258.20,270.13 259.55,269.74 260.89,269.84 262.24,270.04 263.58,270.21 264.93,270.07 266.28,269.87 267.62,270.25 268.97,269.82 270.32,269.71 271.66,269.86 273.01,269.97 274.35,269.74 275.70,269.81 277.35,269.67 279.00,269.54 280.75,268.58 282.50,268.02" fill="none" stroke="#111" stroke-width="1.0" stroke-linejoin="round" stroke-linecap="round"/>
<text x="337.5" y="254.5" font-size="8.6" font-weight="bold" text-anchor="start" fill="#1a1a1a" textLength="4.9" lengthAdjust="spacingAndGlyphs" stroke="#1a1a1a" stroke-width="0.22">d</text>
<text x="345.1" y="254.5" font-size="8.3" font-weight="normal" text-anchor="start" fill="#1a1a1a" textLength="36.5" lengthAdjust="spacingAndGlyphs" stroke="#1a1a1a" stroke-width="0.35">(HEK293</text>
<text x="382.2" y="249.6" font-size="8.2" font-weight="normal" text-anchor="start" fill="#1a1a1a" textLength="15.9" lengthAdjust="spacingAndGlyphs" stroke="#1a1a1a" stroke-width="0.35">TM8</text>
<text x="399.3" y="254.5" font-size="8.3" font-weight="normal" text-anchor="start" fill="#1a1a1a" stroke="#1a1a1a" stroke-width="0.35">)</text>
<text x="412.2" y="268.3" font-size="10" font-weight="bold" text-anchor="start" fill="#1a1a1a" textLength="21.1" lengthAdjust="spacingAndGlyphs" stroke="#1a1a1a" stroke-width="0.22">W.C.</text>
<line x1="424.50" y1="269.70" x2="424.50" y2="278.50" stroke="#222" stroke-width="0.7" stroke-linecap="butt"/>
<polygon points="423.3,275.5 425.7,275.5 424.5,279.2" fill="#222"/>
<line x1="412.80" y1="279.00" x2="412.80" y2="308.80" stroke="#000" stroke-width="1.2" stroke-linecap="butt"/>
<line x1="412.30" y1="308.20" x2="593.20" y2="308.20" stroke="#000" stroke-width="1.2" stroke-linecap="butt"/>
<line x1="409.80" y1="279.40" x2="412.80" y2="279.40" stroke="#000" stroke-width="1" stroke-linecap="butt"/>
<line x1="411.20" y1="294.00" x2="412.80" y2="294.00" stroke="#000" stroke-width="1" stroke-linecap="butt"/>
<line x1="409.80" y1="308.20" x2="412.80" y2="308.20" stroke="#000" stroke-width="1" stroke-linecap="butt"/>
<text x="409" y="281.4" font-size="7.4" font-weight="bold" text-anchor="end" fill="#1a1a1a" textLength="10" lengthAdjust="spacingAndGlyphs" stroke="#1a1a1a" stroke-width="0.22">0,0</text>
<text x="409" y="311" font-size="7.4" font-weight="bold" text-anchor="end" fill="#1a1a1a" textLength="12" lengthAdjust="spacingAndGlyphs" stroke="#1a1a1a" stroke-width="0.22">-0,2</text>
<line x1="413.30" y1="308.20" x2="413.30" y2="310.60" stroke="#000" stroke-width="1" stroke-linecap="butt"/>
<line x1="431.20" y1="308.20" x2="431.20" y2="309.80" stroke="#000" stroke-width="0.9" stroke-linecap="butt"/>
<text x="413.3" y="318.8" font-size="6.6" font-weight="normal" text-anchor="middle" fill="#1a1a1a" textLength="3.6" lengthAdjust="spacingAndGlyphs" stroke="#1a1a1a" stroke-width="0.35">0</text>
<line x1="449.10" y1="308.20" x2="449.10" y2="310.60" stroke="#000" stroke-width="1" stroke-linecap="butt"/>
<line x1="467.00" y1="308.20" x2="467.00" y2="309.80" stroke="#000" stroke-width="0.9" stroke-linecap="butt"/>
<text x="449.1" y="318.8" font-size="6.6" font-weight="normal" text-anchor="middle" fill="#1a1a1a" textLength="10.8" lengthAdjust="spacingAndGlyphs" stroke="#1a1a1a" stroke-width="0.35">200</text>
<line x1="484.90" y1="308.20" x2="484.90" y2="310.60" stroke="#000" stroke-width="1" stroke-linecap="butt"/>
<line x1="502.80" y1="308.20" x2="502.80" y2="309.80" stroke="#000" stroke-width="0.9" stroke-linecap="butt"/>
<text x="484.9" y="318.8" font-size="6.6" font-weight="normal" text-anchor="middle" fill="#1a1a1a" textLength="10.8" lengthAdjust="spacingAndGlyphs" stroke="#1a1a1a" stroke-width="0.35">400</text>
<line x1="520.70" y1="308.20" x2="520.70" y2="310.60" stroke="#000" stroke-width="1" stroke-linecap="butt"/>
<line x1="538.60" y1="308.20" x2="538.60" y2="309.80" stroke="#000" stroke-width="0.9" stroke-linecap="butt"/>
<text x="520.7" y="318.8" font-size="6.6" font-weight="normal" text-anchor="middle" fill="#1a1a1a" textLength="10.8" lengthAdjust="spacingAndGlyphs" stroke="#1a1a1a" stroke-width="0.35">600</text>
<line x1="556.50" y1="308.20" x2="556.50" y2="310.60" stroke="#000" stroke-width="1" stroke-linecap="butt"/>
<line x1="574.40" y1="308.20" x2="574.40" y2="309.80" stroke="#000" stroke-width="0.9" stroke-linecap="butt"/>
<text x="556.5" y="318.8" font-size="6.6" font-weight="normal" text-anchor="middle" fill="#1a1a1a" textLength="10.8" lengthAdjust="spacingAndGlyphs" stroke="#1a1a1a" stroke-width="0.35">800</text>
<line x1="592.30" y1="308.20" x2="592.30" y2="310.60" stroke="#000" stroke-width="1" stroke-linecap="butt"/>
<text x="592.3" y="318.8" font-size="6.6" font-weight="normal" text-anchor="middle" fill="#1a1a1a" textLength="14.4" lengthAdjust="spacingAndGlyphs" stroke="#1a1a1a" stroke-width="0.35">1000</text>
<text x="503" y="335.0" font-size="10.4" font-weight="normal" text-anchor="middle" fill="#1a1a1a" textLength="31.4" lengthAdjust="spacingAndGlyphs" stroke="#1a1a1a" stroke-width="0.35">Time (s)</text>
<text transform="translate(391.0 292.9) rotate(-90)" x="0" y="0" font-size="9.2" font-weight="bold" text-anchor="middle" fill="#1a1a1a" textLength="23.4" lengthAdjust="spacingAndGlyphs" stroke="#1a1a1a" stroke-width="0.22">I (nA)</text>
<line x1="583.65" y1="274.40" x2="588.05" y2="274.40" stroke="#000" stroke-width="3" stroke-linecap="round"/>
<text x="591.4" y="277.4" font-size="8.6" font-weight="bold" text-anchor="start" fill="#1a1a1a" textLength="23.7" lengthAdjust="spacingAndGlyphs" stroke="#1a1a1a" stroke-width="0.22">NMDG</text>
<polyline points="412.80,281.39 414.53,281.46 416.27,281.47 418.00,281.26 419.95,281.30 421.90,281.55 423.30,282.91 424.30,286.62 424.80,289.58 425.30,302.14 425.80,296.02 426.30,290.46 427.70,289.36 429.15,289.23 430.60,288.86 431.10,285.76 432.60,284.42 433.60,285.73 435.50,283.93 436.95,283.67 438.40,283.03 440.00,282.96 441.50,282.99 443.00,282.51 444.40,282.34 445.80,282.51 447.20,282.16 448.60,281.82 450.00,281.99 451.43,281.91 452.87,281.51 454.30,281.57 455.64,281.57 456.98,281.77 458.32,282.01 459.66,281.95 461.00,282.28 462.52,282.12 464.04,282.27 465.56,282.63 467.08,282.56 468.60,282.67 470.07,282.94 471.53,283.09 473.00,283.25 474.37,283.21 475.73,283.59 477.10,283.79 478.73,283.39 480.37,282.87 482.00,282.34 483.32,282.19 484.64,282.16 485.96,281.99 487.28,281.61 488.60,281.49 490.03,281.53 491.45,281.58 492.88,281.69 494.30,281.55 495.73,281.35 497.15,281.65 498.57,281.48 500.00,281.51 501.43,281.40 502.85,281.50 504.27,281.49 505.70,281.66 507.12,281.40 508.55,281.59 509.97,281.46 511.40,281.68 512.77,281.49 514.14,281.65 515.51,281.75 516.89,281.94 518.26,281.78 519.63,282.01 521.00,281.98 522.49,282.10 523.97,282.26 525.46,282.54 526.94,282.44 528.43,282.71 529.91,282.48 531.40,282.87 532.83,282.58 534.27,282.44 535.70,282.60 537.13,282.60 538.57,282.17 540.00,282.21 541.43,282.39 542.86,282.20 544.29,282.14 545.72,282.02 547.15,282.02 548.58,282.23 550.01,282.35 551.44,282.34 552.87,282.12 554.30,281.91 555.61,282.01 556.92,282.18 558.22,282.18 559.53,282.09 560.84,281.91 562.15,282.01 563.46,281.97 564.77,282.02 566.08,281.86 567.38,282.11 568.69,282.07 570.00,281.76 571.31,281.79 572.62,282.00 573.92,281.74 575.23,281.98 576.54,281.78 577.85,281.83 579.16,281.81 580.47,281.59 581.78,281.59 583.08,281.55 584.39,281.70 585.70,281.68" fill="none" stroke="#444" stroke-width="1.0" stroke-linejoin="round" stroke-linecap="round"/>
<text x="0.9" y="367.2" font-size="8.6" font-weight="bold" text-anchor="start" fill="#1a1a1a" textLength="3.8" lengthAdjust="spacingAndGlyphs" stroke="#1a1a1a" stroke-width="0.22">e</text>
<text x="8.4" y="367.6" font-size="9.6" font-weight="normal" text-anchor="start" fill="#1a1a1a" textLength="35.3" lengthAdjust="spacingAndGlyphs" stroke="#1a1a1a" stroke-width="0.35">(HEK293</text>
<text x="45.5" y="361.9" font-size="8.8" font-weight="normal" text-anchor="start" fill="#1a1a1a" textLength="14.7" lengthAdjust="spacingAndGlyphs" stroke="#1a1a1a" stroke-width="0.35">TM8</text>
<text x="62" y="367.6" font-size="9.6" font-weight="normal" text-anchor="start" fill="#1a1a1a" stroke="#1a1a1a" stroke-width="0.35">)</text>
<text x="70.1" y="362.6" font-size="10" font-weight="bold" text-anchor="start" fill="#1a1a1a" textLength="18.9" lengthAdjust="spacingAndGlyphs" stroke="#1a1a1a" stroke-width="0.22">W.C</text>
<line x1="79.50" y1="364.30" x2="79.50" y2="376.50" stroke="#222" stroke-width="0.7" stroke-linecap="butt"/>
<polygon points="78.3,373.5 80.7,373.5 79.5,377.3" fill="#222"/>
<line x1="74.50" y1="380.60" x2="74.50" y2="538.00" stroke="#000" stroke-width="1.3" stroke-linecap="butt"/>
<line x1="73.90" y1="537.40" x2="266.60" y2="537.40" stroke="#000" stroke-width="1.3" stroke-linecap="butt"/>
<line x1="70.60" y1="381.60" x2="74.50" y2="381.60" stroke="#000" stroke-width="1.1" stroke-linecap="butt"/>
<line x1="72.30" y1="392.73" x2="74.50" y2="392.73" stroke="#000" stroke-width="1" stroke-linecap="butt"/>
<line x1="70.60" y1="403.86" x2="74.50" y2="403.86" stroke="#000" stroke-width="1.1" stroke-linecap="butt"/>
<line x1="72.30" y1="414.99" x2="74.50" y2="414.99" stroke="#000" stroke-width="1" stroke-linecap="butt"/>
<line x1="70.60" y1="426.12" x2="74.50" y2="426.12" stroke="#000" stroke-width="1.1" stroke-linecap="butt"/>
<line x1="72.30" y1="437.25" x2="74.50" y2="437.25" stroke="#000" stroke-width="1" stroke-linecap="butt"/>
<line x1="70.60" y1="448.38" x2="74.50" y2="448.38" stroke="#000" stroke-width="1.1" stroke-linecap="butt"/>
<line x1="72.30" y1="459.51" x2="74.50" y2="459.51" stroke="#000" stroke-width="1" stroke-linecap="butt"/>
<line x1="70.60" y1="470.64" x2="74.50" y2="470.64" stroke="#000" stroke-width="1.1" stroke-linecap="butt"/>
<line x1="72.30" y1="481.77" x2="74.50" y2="481.77" stroke="#000" stroke-width="1" stroke-linecap="butt"/>
<line x1="70.60" y1="492.90" x2="74.50" y2="492.90" stroke="#000" stroke-width="1.1" stroke-linecap="butt"/>
<line x1="72.30" y1="504.03" x2="74.50" y2="504.03" stroke="#000" stroke-width="1" stroke-linecap="butt"/>
<line x1="70.60" y1="515.16" x2="74.50" y2="515.16" stroke="#000" stroke-width="1.1" stroke-linecap="butt"/>
<line x1="72.30" y1="526.29" x2="74.50" y2="526.29" stroke="#000" stroke-width="1" stroke-linecap="butt"/>
<line x1="70.60" y1="537.42" x2="74.50" y2="537.42" stroke="#000" stroke-width="1.1" stroke-linecap="butt"/>
<text x="69.6" y="384.3" font-size="7.6" font-weight="bold" text-anchor="end" fill="#1a1a1a" textLength="9.6" lengthAdjust="spacingAndGlyphs" stroke="#1a1a1a" stroke-width="0.22">0,0</text>
<text x="69.6" y="406.56" font-size="7.6" font-weight="bold" text-anchor="end" fill="#1a1a1a" textLength="12.9" lengthAdjust="spacingAndGlyphs" stroke="#1a1a1a" stroke-width="0.22">-0,1</text>
<text x="69.6" y="428.82" font-size="7.6" font-weight="bold" text-anchor="end" fill="#1a1a1a" textLength="12.9" lengthAdjust="spacingAndGlyphs" stroke="#1a1a1a" stroke-width="0.22">-0,2</text>
<text x="69.6" y="451.08" font-size="7.6" font-weight="bold" text-anchor="end" fill="#1a1a1a" textLength="12.9" lengthAdjust="spacingAndGlyphs" stroke="#1a1a1a" stroke-width="0.22">-0,3</text>
<text x="69.6" y="473.34000000000003" font-size="7.6" font-weight="bold" text-anchor="end" fill="#1a1a1a" textLength="12.9" lengthAdjust="spacingAndGlyphs" stroke="#1a1a1a" stroke-width="0.22">-0,4</text>
<text x="69.6" y="495.6" font-size="7.6" font-weight="bold" text-anchor="end" fill="#1a1a1a" textLength="12.9" lengthAdjust="spacingAndGlyphs" stroke="#1a1a1a" stroke-width="0.22">-0,5</text>
<text x="69.6" y="517.8600000000001" font-size="7.6" font-weight="bold" text-anchor="end" fill="#1a1a1a" textLength="12.9" lengthAdjust="spacingAndGlyphs" stroke="#1a1a1a" stroke-width="0.22">-0,6</text>
<text x="69.6" y="540.1200000000001" font-size="7.6" font-weight="bold" text-anchor="end" fill="#1a1a1a" textLength="12.9" lengthAdjust="spacingAndGlyphs" stroke="#1a1a1a" stroke-width="0.22">-0,7</text>
<line x1="74.50" y1="537.40" x2="74.50" y2="540.20" stroke="#000" stroke-width="1.1" stroke-linecap="butt"/>
<line x1="98.47" y1="537.40" x2="98.47" y2="535.20" stroke="#000" stroke-width="1" stroke-linecap="butt"/>
<text x="74.5" y="549.1" font-size="7.8" font-weight="bold" text-anchor="middle" fill="#1a1a1a" textLength="4.4" lengthAdjust="spacingAndGlyphs" stroke="#1a1a1a" stroke-width="0.22">0</text>
<line x1="122.45" y1="537.40" x2="122.45" y2="540.20" stroke="#000" stroke-width="1.1" stroke-linecap="butt"/>
<line x1="146.42" y1="537.40" x2="146.42" y2="535.20" stroke="#000" stroke-width="1" stroke-linecap="butt"/>
<text x="122.45" y="549.1" font-size="7.8" font-weight="bold" text-anchor="middle" fill="#1a1a1a" textLength="13.200000000000001" lengthAdjust="spacingAndGlyphs" stroke="#1a1a1a" stroke-width="0.22">225</text>
<line x1="170.40" y1="537.40" x2="170.40" y2="540.20" stroke="#000" stroke-width="1.1" stroke-linecap="butt"/>
<line x1="194.37" y1="537.40" x2="194.37" y2="535.20" stroke="#000" stroke-width="1" stroke-linecap="butt"/>
<text x="170.4" y="549.1" font-size="7.8" font-weight="bold" text-anchor="middle" fill="#1a1a1a" textLength="13.200000000000001" lengthAdjust="spacingAndGlyphs" stroke="#1a1a1a" stroke-width="0.22">450</text>
<line x1="218.35" y1="537.40" x2="218.35" y2="540.20" stroke="#000" stroke-width="1.1" stroke-linecap="butt"/>
<line x1="242.32" y1="537.40" x2="242.32" y2="535.20" stroke="#000" stroke-width="1" stroke-linecap="butt"/>
<text x="218.35000000000002" y="549.1" font-size="7.8" font-weight="bold" text-anchor="middle" fill="#1a1a1a" textLength="13.200000000000001" lengthAdjust="spacingAndGlyphs" stroke="#1a1a1a" stroke-width="0.22">675</text>
<line x1="266.30" y1="537.40" x2="266.30" y2="540.20" stroke="#000" stroke-width="1.1" stroke-linecap="butt"/>
<text x="266.3" y="549.1" font-size="7.8" font-weight="bold" text-anchor="middle" fill="#1a1a1a" textLength="13.200000000000001" lengthAdjust="spacingAndGlyphs" stroke="#1a1a1a" stroke-width="0.22">900</text>
<text x="170.6" y="564.6" font-size="10" font-weight="bold" text-anchor="middle" fill="#1a1a1a" textLength="34.1" lengthAdjust="spacingAndGlyphs" stroke="#1a1a1a" stroke-width="0.22">Time (s)</text>
<text transform="translate(52.6 466) rotate(-90)" x="0" y="0" font-size="11" font-weight="bold" text-anchor="middle" fill="#1a1a1a" textLength="24.7" lengthAdjust="spacingAndGlyphs" stroke="#1a1a1a" stroke-width="0.22">I (nA)</text>
<line x1="91.05" y1="380.80" x2="121.55" y2="380.80" stroke="#000" stroke-width="3" stroke-linecap="round"/>
<line x1="156.45" y1="380.80" x2="171.15" y2="380.80" stroke="#000" stroke-width="3" stroke-linecap="round"/>
<line x1="217.75" y1="380.80" x2="233.35" y2="380.80" stroke="#000" stroke-width="3" stroke-linecap="round"/>
<line x1="123.05" y1="372.00" x2="146.05" y2="372.00" stroke="#000" stroke-width="3" stroke-linecap="round"/>
<line x1="173.95" y1="372.00" x2="201.25" y2="372.00" stroke="#000" stroke-width="3" stroke-linecap="round"/>
<line x1="235.25" y1="372.00" x2="253.65" y2="372.00" stroke="#000" stroke-width="3" stroke-linecap="round"/>
<line x1="147.85" y1="363.90" x2="154.05" y2="363.90" stroke="#000" stroke-width="3" stroke-linecap="round"/>
<line x1="203.05" y1="363.90" x2="215.85" y2="363.90" stroke="#000" stroke-width="3" stroke-linecap="round"/>
<line x1="256.35" y1="363.90" x2="259.75" y2="363.90" stroke="#000" stroke-width="3" stroke-linecap="round"/>
<text x="262.5" y="366.4" font-size="7" font-weight="bold" text-anchor="start" fill="#1a1a1a" textLength="20.3" lengthAdjust="spacingAndGlyphs" stroke="#1a1a1a" stroke-width="0.22">NMDG</text>
<text x="262.5" y="374.5" font-size="7" font-weight="bold" text-anchor="start" fill="#1a1a1a" textLength="14.6" lengthAdjust="spacingAndGlyphs" stroke="#1a1a1a" stroke-width="0.22">ACA</text>
<text x="262.5" y="382.6" font-size="7" font-weight="bold" text-anchor="start" fill="#1a1a1a" textLength="19.1" lengthAdjust="spacingAndGlyphs" stroke="#1a1a1a" stroke-width="0.22">ADPR</text>
<polyline points="74.90,384.28 76.23,384.49 77.57,384.49 78.90,384.57 80.10,402.04 81.20,414.87 81.70,420.72 83.00,422.36 83.60,421.52 85.40,428.02 87.00,420.12 88.70,415.86 89.50,407.00 90.60,394.87 91.90,402.37 93.50,428.25 94.40,444.16 96.80,451.29 99.20,456.02 100.80,460.49 102.50,464.55 104.10,471.85 105.40,469.36 106.50,467.72 107.70,482.42 108.60,495.35 110.00,494.28 111.40,493.77 113.00,494.39 114.60,498.53 116.30,497.63 117.90,496.76 118.70,503.23 120.30,493.56 121.90,478.91 123.20,477.91 124.40,479.16 125.20,492.05 126.80,488.94 128.40,487.20 130.00,491.13 131.70,491.22 133.30,494.22 134.90,485.59 136.20,466.77 138.20,464.24 140.60,466.65 143.10,465.21 145.00,460.18 146.30,464.38 148.20,465.25 148.70,431.35 149.50,417.82 150.40,408.70 151.20,398.87 152.80,395.57 154.10,393.15 155.70,394.83 157.30,393.09 158.40,394.98 159.70,413.83 160.10,420.04 161.40,431.51 161.70,436.52 162.20,449.47 163.80,460.92 165.40,467.75 167.00,475.87 168.20,478.17 169.50,477.13 170.80,485.46 171.60,493.78 172.20,514.89 172.70,522.15 173.50,514.55 174.40,508.38 176.80,501.64 179.20,496.11 180.80,493.42 182.50,495.44 184.10,477.35 186.50,469.31 188.15,467.46 189.80,466.06 192.20,463.54 193.85,463.55 195.50,463.43 197.10,462.41 198.70,461.02 201.10,460.20 202.30,462.53 202.80,440.09 203.20,429.81 204.40,416.66 206.00,404.38 208.40,401.47 210.05,399.38 211.70,397.32 213.30,395.87 214.90,394.87 216.60,397.22 217.40,390.60 218.50,396.25 219.50,420.35 219.80,439.81 220.60,454.50 223.10,456.88 225.50,458.75 227.90,460.09 230.40,461.88 232.00,456.93 232.80,458.07 233.30,488.45 234.10,506.52 234.70,498.40 236.00,485.73 238.50,472.51 239.83,468.15 241.17,463.92 242.50,459.40 244.15,455.62 245.80,452.20 247.65,447.56 249.50,442.62 251.90,439.98 253.50,441.79 255.20,438.67 256.00,434.28 256.80,414.94 257.60,398.63 259.20,388.87 260.80,384.79" fill="none" stroke="#111" stroke-width="0.95" stroke-linejoin="round" stroke-linecap="round"/>
<circle cx="87.7" cy="377.6" r="0.55" fill="#333"/>
<circle cx="168.2" cy="517.6" r="3.2" fill="#fff" stroke="#E05050" stroke-width="0.7"/>
<text x="168.2" y="519.8000000000001" font-size="6" font-weight="bold" text-anchor="middle" fill="#111" stroke="#111" stroke-width="0.22">1</text>
<circle cx="198.7" cy="455.8" r="3.2" fill="#fff" stroke="#E05050" stroke-width="0.7"/>
<text x="198.7" y="458.0" font-size="6" font-weight="bold" text-anchor="middle" fill="#111" stroke="#111" stroke-width="0.22">2</text>
<line x1="259.10" y1="480.40" x2="366.00" y2="480.40" stroke="#111" stroke-width="1.1" stroke-linecap="butt"/>
<polygon points="365,478.3 369,480.4 365,482.5" fill="#111"/>
<line x1="314.50" y1="438.00" x2="314.50" y2="526.60" stroke="#111" stroke-width="1.1" stroke-linecap="butt"/>
<polygon points="312.5,439.5 314.5,435.2 316.5,439.5" fill="#111"/>
<line x1="265.20" y1="478.60" x2="265.20" y2="482.20" stroke="#111" stroke-width="0.9" stroke-linecap="butt"/>
<line x1="275.50" y1="478.60" x2="275.50" y2="482.20" stroke="#111" stroke-width="0.9" stroke-linecap="butt"/>
<line x1="284.80" y1="478.60" x2="284.80" y2="482.20" stroke="#111" stroke-width="0.9" stroke-linecap="butt"/>
<line x1="294.30" y1="478.60" x2="294.30" y2="482.20" stroke="#111" stroke-width="0.9" stroke-linecap="butt"/>
<line x1="331.60" y1="478.60" x2="331.60" y2="482.20" stroke="#111" stroke-width="0.9" stroke-linecap="butt"/>
<line x1="341.40" y1="478.60" x2="341.40" y2="482.20" stroke="#111" stroke-width="0.9" stroke-linecap="butt"/>
<line x1="351.30" y1="478.60" x2="351.30" y2="482.20" stroke="#111" stroke-width="0.9" stroke-linecap="butt"/>
<line x1="360.20" y1="478.60" x2="360.20" y2="482.20" stroke="#111" stroke-width="0.9" stroke-linecap="butt"/>
<line x1="313.20" y1="444.60" x2="315.80" y2="444.60" stroke="#111" stroke-width="0.9" stroke-linecap="butt"/>
<line x1="313.20" y1="457.00" x2="315.80" y2="457.00" stroke="#111" stroke-width="0.9" stroke-linecap="butt"/>
<line x1="313.20" y1="469.20" x2="315.80" y2="469.20" stroke="#111" stroke-width="0.9" stroke-linecap="butt"/>
<line x1="313.20" y1="492.30" x2="315.80" y2="492.30" stroke="#111" stroke-width="0.9" stroke-linecap="butt"/>
<line x1="313.20" y1="503.90" x2="315.80" y2="503.90" stroke="#111" stroke-width="0.9" stroke-linecap="butt"/>
<line x1="313.20" y1="515.90" x2="315.80" y2="515.90" stroke="#111" stroke-width="0.9" stroke-linecap="butt"/>
<text x="265.7" y="487.8" font-size="4.6" font-weight="normal" text-anchor="middle" fill="#111" stroke="#111" stroke-width="0.35">-80</text>
<text x="275.5" y="487.8" font-size="4.6" font-weight="normal" text-anchor="middle" fill="#111" stroke="#111" stroke-width="0.35">-60</text>
<text x="285.2" y="487.8" font-size="4.6" font-weight="normal" text-anchor="middle" fill="#111" stroke="#111" stroke-width="0.35">-40</text>
<text x="296.1" y="487.8" font-size="4.6" font-weight="normal" text-anchor="middle" fill="#111" stroke="#111" stroke-width="0.35">-20</text>
<text x="332.1" y="487.8" font-size="4.6" font-weight="normal" text-anchor="middle" fill="#111" stroke="#111" stroke-width="0.35">20</text>
<text x="342" y="487.8" font-size="4.6" font-weight="normal" text-anchor="middle" fill="#111" stroke="#111" stroke-width="0.35">40</text>
<text x="351.4" y="487.8" font-size="4.6" font-weight="normal" text-anchor="middle" fill="#111" stroke="#111" stroke-width="0.35">60</text>
<text x="359.8" y="487.8" font-size="4.6" font-weight="normal" text-anchor="middle" fill="#111" stroke="#111" stroke-width="0.35">80</text>
<text x="311.4" y="446.3" font-size="4.8" font-weight="normal" text-anchor="end" fill="#111" stroke="#111" stroke-width="0.35">0,6</text>
<text x="311.4" y="458.7" font-size="4.8" font-weight="normal" text-anchor="end" fill="#111" stroke="#111" stroke-width="0.35">0,4</text>
<text x="311.4" y="470.9" font-size="4.8" font-weight="normal" text-anchor="end" fill="#111" stroke="#111" stroke-width="0.35">0,2</text>
<text x="313.8" y="494.0" font-size="4.8" font-weight="normal" text-anchor="end" fill="#111" stroke="#111" stroke-width="0.35">-0,2</text>
<text x="313.8" y="505.59999999999997" font-size="4.8" font-weight="normal" text-anchor="end" fill="#111" stroke="#111" stroke-width="0.35">-0,4</text>
<text x="313.8" y="517.6" font-size="4.8" font-weight="normal" text-anchor="end" fill="#111" stroke="#111" stroke-width="0.35">-0,6</text>
<text x="298" y="438.4" font-size="6" font-weight="normal" text-anchor="middle" fill="#111" textLength="13.3" lengthAdjust="spacingAndGlyphs" stroke="#111" stroke-width="0.35">I (nA)</text>
<text x="360.6" y="472.8" font-size="5.6" font-weight="normal" text-anchor="middle" fill="#111" textLength="17" lengthAdjust="spacingAndGlyphs" stroke="#111" stroke-width="0.35">V (mV)</text>
<polyline points="328.40,437.30 314.50,480.40 311.50,486.50 309.00,492.50 307.10,498.60 304.50,503.50 301.80,507.50 297.50,510.20 292.90,512.00 287.00,513.30 282.10,513.80 275.00,514.10 268.00,514.30 261.60,514.50" fill="none" stroke="#E0303A" stroke-width="1" stroke-linejoin="round" stroke-linecap="round"/>
<polyline points="341.40,437.30 314.50,480.40 310.70,486.00 307.50,489.80 303.60,493.20 299.00,495.20 294.60,496.40 288.00,497.50 282.10,498.20 272.00,498.50 261.60,498.80" fill="none" stroke="#E0303A" stroke-width="1" stroke-linejoin="round" stroke-linecap="round"/>
<circle cx="275.5" cy="517.7" r="2.6" fill="#fff" stroke="#E05050" stroke-width="0.5"/>
<text x="275.5" y="519.3000000000001" font-size="4.4" font-weight="normal" text-anchor="middle" fill="#444">1</text>
<circle cx="275.9" cy="501.3" r="2.6" fill="#fff" stroke="#E05050" stroke-width="0.5"/>
<text x="275.9" y="502.90000000000003" font-size="4.4" font-weight="normal" text-anchor="middle" fill="#444">2</text>
<text x="379.6" y="350.2" font-size="9" font-weight="bold" text-anchor="start" fill="#1a1a1a" stroke="#1a1a1a" stroke-width="0.22">f</text>
<line x1="432.50" y1="345.20" x2="432.50" y2="499.00" stroke="#BFBFBF" stroke-width="1" stroke-linecap="butt"/>
<line x1="432.50" y1="496.50" x2="603.80" y2="496.50" stroke="#BFBFBF" stroke-width="1" stroke-linecap="butt"/>
<line x1="429.60" y1="496.50" x2="432.50" y2="496.50" stroke="#BFBFBF" stroke-width="1" stroke-linecap="butt"/>
<text x="424.3" y="499.4" font-size="8.2" font-weight="bold" text-anchor="end" fill="#1a1a1a" textLength="4.15" lengthAdjust="spacingAndGlyphs" stroke="#1a1a1a" stroke-width="0.22">0</text>
<line x1="429.60" y1="471.29" x2="432.50" y2="471.29" stroke="#BFBFBF" stroke-width="1" stroke-linecap="butt"/>
<text x="424.3" y="474.185" font-size="8.2" font-weight="bold" text-anchor="end" fill="#1a1a1a" textLength="8.3" lengthAdjust="spacingAndGlyphs" stroke="#1a1a1a" stroke-width="0.22">50</text>
<line x1="429.60" y1="446.07" x2="432.50" y2="446.07" stroke="#BFBFBF" stroke-width="1" stroke-linecap="butt"/>
<text x="424.3" y="448.96999999999997" font-size="8.2" font-weight="bold" text-anchor="end" fill="#1a1a1a" textLength="12.450000000000001" lengthAdjust="spacingAndGlyphs" stroke="#1a1a1a" stroke-width="0.22">100</text>
<line x1="429.60" y1="420.86" x2="432.50" y2="420.86" stroke="#BFBFBF" stroke-width="1" stroke-linecap="butt"/>
<text x="424.3" y="423.755" font-size="8.2" font-weight="bold" text-anchor="end" fill="#1a1a1a" textLength="12.450000000000001" lengthAdjust="spacingAndGlyphs" stroke="#1a1a1a" stroke-width="0.22">150</text>
<line x1="429.60" y1="395.64" x2="432.50" y2="395.64" stroke="#BFBFBF" stroke-width="1" stroke-linecap="butt"/>
<text x="424.3" y="398.53999999999996" font-size="8.2" font-weight="bold" text-anchor="end" fill="#1a1a1a" textLength="12.450000000000001" lengthAdjust="spacingAndGlyphs" stroke="#1a1a1a" stroke-width="0.22">200</text>
<line x1="429.60" y1="370.43" x2="432.50" y2="370.43" stroke="#BFBFBF" stroke-width="1" stroke-linecap="butt"/>
<text x="424.3" y="373.325" font-size="8.2" font-weight="bold" text-anchor="end" fill="#1a1a1a" textLength="12.450000000000001" lengthAdjust="spacingAndGlyphs" stroke="#1a1a1a" stroke-width="0.22">250</text>
<line x1="429.60" y1="345.21" x2="432.50" y2="345.21" stroke="#BFBFBF" stroke-width="1" stroke-linecap="butt"/>
<text x="424.3" y="348.11" font-size="8.2" font-weight="bold" text-anchor="end" fill="#1a1a1a" textLength="12.450000000000001" lengthAdjust="spacingAndGlyphs" stroke="#1a1a1a" stroke-width="0.22">300</text>
<line x1="466.50" y1="496.50" x2="466.50" y2="499.50" stroke="#BFBFBF" stroke-width="1" stroke-linecap="butt"/>
<line x1="501.00" y1="496.50" x2="501.00" y2="499.50" stroke="#BFBFBF" stroke-width="1" stroke-linecap="butt"/>
<line x1="535.10" y1="496.50" x2="535.10" y2="499.50" stroke="#BFBFBF" stroke-width="1" stroke-linecap="butt"/>
<line x1="569.50" y1="496.50" x2="569.50" y2="499.50" stroke="#BFBFBF" stroke-width="1" stroke-linecap="butt"/>
<line x1="603.60" y1="496.50" x2="603.60" y2="499.50" stroke="#BFBFBF" stroke-width="1" stroke-linecap="butt"/>
<rect x="436.60" y="494.90" width="25.30" height="1.60" fill="#508CD6"/>
<rect x="471.40" y="495.50" width="25.30" height="1.00" fill="#508CD6"/>
<rect x="505.50" y="494.90" width="25.30" height="1.60" fill="#508CD6"/>
<rect x="539.60" y="376.30" width="25.30" height="120.20" fill="#508CD6"/>
<rect x="573.70" y="486.80" width="25.30" height="9.70" fill="#508CD6"/>
<line x1="449.25" y1="494.90" x2="449.25" y2="493.80" stroke="#666" stroke-width="1.1" stroke-linecap="butt"/>
<line x1="447.25" y1="493.80" x2="451.25" y2="493.80" stroke="#444" stroke-width="1.1" stroke-linecap="butt"/>
<line x1="484.05" y1="495.50" x2="484.05" y2="494.60" stroke="#666" stroke-width="1.1" stroke-linecap="butt"/>
<line x1="482.05" y1="494.60" x2="486.05" y2="494.60" stroke="#444" stroke-width="1.1" stroke-linecap="butt"/>
<line x1="518.15" y1="494.90" x2="518.15" y2="493.80" stroke="#666" stroke-width="1.1" stroke-linecap="butt"/>
<line x1="516.15" y1="493.80" x2="520.15" y2="493.80" stroke="#444" stroke-width="1.1" stroke-linecap="butt"/>
<line x1="552.25" y1="376.30" x2="552.25" y2="364.20" stroke="#666" stroke-width="1.1" stroke-linecap="butt"/>
<line x1="550.25" y1="364.20" x2="554.25" y2="364.20" stroke="#444" stroke-width="1.1" stroke-linecap="butt"/>
<line x1="586.35" y1="486.80" x2="586.35" y2="480.40" stroke="#666" stroke-width="1.1" stroke-linecap="butt"/>
<line x1="584.35" y1="480.40" x2="588.35" y2="480.40" stroke="#444" stroke-width="1.1" stroke-linecap="butt"/>
<text x="552.3" y="360.8" font-size="8" font-weight="bold" text-anchor="middle" fill="#1a1a1a" stroke="#1a1a1a" stroke-width="0.22">a</text>
<text x="586.1" y="476.6" font-size="8" font-weight="bold" text-anchor="middle" fill="#1a1a1a" stroke="#1a1a1a" stroke-width="0.22">b</text>
<text transform="translate(384.4 420.3) rotate(-90)" x="0" y="0" font-size="9.4" font-weight="normal" text-anchor="middle" fill="#1a1a1a" textLength="61.7" lengthAdjust="spacingAndGlyphs" stroke="#1a1a1a" stroke-width="0.35">Current Density</text>
<text transform="translate(396.0 421.3) rotate(-90)" x="0" y="0" font-size="9.4" font-weight="normal" text-anchor="middle" fill="#1a1a1a" textLength="27.5" lengthAdjust="spacingAndGlyphs" stroke="#1a1a1a" stroke-width="0.35">(pA/pF)</text>
<text transform="translate(452.3 508) rotate(-45)" x="0" y="0" font-size="7.4" font-weight="bold" text-anchor="end" fill="#1a1a1a" textLength="27.6" lengthAdjust="spacingAndGlyphs" stroke="#1a1a1a" stroke-width="0.22">HEK293</text>
<text transform="translate(486 508) rotate(-45)" x="0" y="0" font-size="7.4" font-weight="bold" text-anchor="end" fill="#1a1a1a" textLength="50.5" lengthAdjust="spacingAndGlyphs" stroke="#1a1a1a" stroke-width="0.22">HEK293+ADPR</text>
<text transform="translate(518.5 507.5) rotate(-45)" x="0" y="0" font-size="7.4" font-weight="bold" text-anchor="end" fill="#1a1a1a" textLength="42.5" lengthAdjust="spacingAndGlyphs" stroke="#1a1a1a" stroke-width="0.22">HEK293 TM8</text>
<text transform="translate(555.5 509.5) rotate(-45)" x="0" y="0" font-size="7.4" font-weight="bold" text-anchor="end" fill="#1a1a1a" textLength="65" lengthAdjust="spacingAndGlyphs" stroke="#1a1a1a" stroke-width="0.22">HEK293 TM8 +ADPR</text>
<text transform="translate(591.8 509) rotate(-45)" x="0" y="0" font-size="7.4" font-weight="bold" text-anchor="end" fill="#1a1a1a" textLength="61.5" lengthAdjust="spacingAndGlyphs" stroke="#1a1a1a" stroke-width="0.22">HEK293 TM8 +ACA</text>
<text x="51.1" y="599.6" font-size="9.2" font-weight="bold" text-anchor="start" fill="#1a1a1a" textLength="5.2" lengthAdjust="spacingAndGlyphs" stroke="#1a1a1a" stroke-width="0.22">g</text>
<text transform="translate(41.3 639.3) rotate(-90)" x="0" y="0" font-size="9.2" font-weight="normal" text-anchor="middle" fill="#1a1a1a" textLength="37" lengthAdjust="spacingAndGlyphs" stroke="#1a1a1a" stroke-width="0.35">(HEK293</text>
<text transform="translate(35.1 612.7) rotate(-90)" x="0" y="0" font-size="9.2" font-weight="normal" text-anchor="middle" fill="#1a1a1a" textLength="15.6" lengthAdjust="spacingAndGlyphs" stroke="#1a1a1a" stroke-width="0.35">TM8</text>
<text transform="translate(40.3 601.7) rotate(-90)" x="0" y="0" font-size="9.2" font-weight="normal" text-anchor="middle" fill="#1a1a1a" stroke="#1a1a1a" stroke-width="0.35">)</text>
<text transform="translate(57.8 624.3) rotate(-90)" x="0" y="0" font-size="8.9" font-weight="bold" text-anchor="middle" fill="#1a1a1a" textLength="23.5" lengthAdjust="spacingAndGlyphs" stroke="#1a1a1a" stroke-width="0.22">I (pA)</text>
<line x1="71.60" y1="602.50" x2="71.60" y2="652.80" stroke="#000" stroke-width="1.3" stroke-linecap="butt"/>
<line x1="71.00" y1="652.20" x2="252.30" y2="652.20" stroke="#000" stroke-width="1.3" stroke-linecap="butt"/>
<line x1="68.60" y1="652.20" x2="71.60" y2="652.20" stroke="#000" stroke-width="1.1" stroke-linecap="butt"/>
<line x1="69.80" y1="647.33" x2="71.60" y2="647.33" stroke="#000" stroke-width="1" stroke-linecap="butt"/>
<line x1="68.60" y1="642.46" x2="71.60" y2="642.46" stroke="#000" stroke-width="1.1" stroke-linecap="butt"/>
<line x1="69.80" y1="637.59" x2="71.60" y2="637.59" stroke="#000" stroke-width="1" stroke-linecap="butt"/>
<line x1="68.60" y1="632.72" x2="71.60" y2="632.72" stroke="#000" stroke-width="1.1" stroke-linecap="butt"/>
<line x1="69.80" y1="627.85" x2="71.60" y2="627.85" stroke="#000" stroke-width="1" stroke-linecap="butt"/>
<line x1="68.60" y1="622.98" x2="71.60" y2="622.98" stroke="#000" stroke-width="1.1" stroke-linecap="butt"/>
<line x1="69.80" y1="618.11" x2="71.60" y2="618.11" stroke="#000" stroke-width="1" stroke-linecap="butt"/>
<line x1="68.60" y1="613.24" x2="71.60" y2="613.24" stroke="#000" stroke-width="1.1" stroke-linecap="butt"/>
<line x1="69.80" y1="608.37" x2="71.60" y2="608.37" stroke="#000" stroke-width="1" stroke-linecap="butt"/>
<line x1="68.60" y1="603.50" x2="71.60" y2="603.50" stroke="#000" stroke-width="1.1" stroke-linecap="butt"/>
<text x="67.2" y="654.8000000000001" font-size="7.6" font-weight="bold" text-anchor="end" fill="#1a1a1a" textLength="3.9" lengthAdjust="spacingAndGlyphs" stroke="#1a1a1a" stroke-width="0.22">0</text>
<text x="67.2" y="645.0600000000001" font-size="7.6" font-weight="bold" text-anchor="end" fill="#1a1a1a" textLength="3.9" lengthAdjust="spacingAndGlyphs" stroke="#1a1a1a" stroke-width="0.22">1</text>
<text x="67.2" y="635.32" font-size="7.6" font-weight="bold" text-anchor="end" fill="#1a1a1a" textLength="3.9" lengthAdjust="spacingAndGlyphs" stroke="#1a1a1a" stroke-width="0.22">2</text>
<text x="67.2" y="625.58" font-size="7.6" font-weight="bold" text-anchor="end" fill="#1a1a1a" textLength="3.9" lengthAdjust="spacingAndGlyphs" stroke="#1a1a1a" stroke-width="0.22">3</text>
<text x="67.2" y="615.84" font-size="7.6" font-weight="bold" text-anchor="end" fill="#1a1a1a" textLength="3.9" lengthAdjust="spacingAndGlyphs" stroke="#1a1a1a" stroke-width="0.22">4</text>
<text x="67.2" y="606.1" font-size="7.6" font-weight="bold" text-anchor="end" fill="#1a1a1a" textLength="3.9" lengthAdjust="spacingAndGlyphs" stroke="#1a1a1a" stroke-width="0.22">5</text>
<line x1="71.60" y1="652.20" x2="71.60" y2="655.00" stroke="#000" stroke-width="1.1" stroke-linecap="butt"/>
<line x1="89.64" y1="652.20" x2="89.64" y2="653.80" stroke="#000" stroke-width="0.9" stroke-linecap="butt"/>
<text x="71.6" y="663.2" font-size="7.2" font-weight="bold" text-anchor="middle" fill="#1a1a1a" textLength="4.1" lengthAdjust="spacingAndGlyphs" stroke="#1a1a1a" stroke-width="0.22">0</text>
<line x1="107.68" y1="652.20" x2="107.68" y2="655.00" stroke="#000" stroke-width="1.1" stroke-linecap="butt"/>
<line x1="125.72" y1="652.20" x2="125.72" y2="653.80" stroke="#000" stroke-width="0.9" stroke-linecap="butt"/>
<text x="107.67999999999999" y="663.2" font-size="7.2" font-weight="bold" text-anchor="middle" fill="#1a1a1a" textLength="12.299999999999999" lengthAdjust="spacingAndGlyphs" stroke="#1a1a1a" stroke-width="0.22">100</text>
<line x1="143.76" y1="652.20" x2="143.76" y2="655.00" stroke="#000" stroke-width="1.1" stroke-linecap="butt"/>
<line x1="161.80" y1="652.20" x2="161.80" y2="653.80" stroke="#000" stroke-width="0.9" stroke-linecap="butt"/>
<text x="143.76" y="663.2" font-size="7.2" font-weight="bold" text-anchor="middle" fill="#1a1a1a" textLength="12.299999999999999" lengthAdjust="spacingAndGlyphs" stroke="#1a1a1a" stroke-width="0.22">200</text>
<line x1="179.84" y1="652.20" x2="179.84" y2="655.00" stroke="#000" stroke-width="1.1" stroke-linecap="butt"/>
<line x1="197.88" y1="652.20" x2="197.88" y2="653.80" stroke="#000" stroke-width="0.9" stroke-linecap="butt"/>
<text x="179.83999999999997" y="663.2" font-size="7.2" font-weight="bold" text-anchor="middle" fill="#1a1a1a" textLength="12.299999999999999" lengthAdjust="spacingAndGlyphs" stroke="#1a1a1a" stroke-width="0.22">300</text>
<line x1="215.92" y1="652.20" x2="215.92" y2="655.00" stroke="#000" stroke-width="1.1" stroke-linecap="butt"/>
<line x1="233.96" y1="652.20" x2="233.96" y2="653.80" stroke="#000" stroke-width="0.9" stroke-linecap="butt"/>
<text x="215.92" y="663.2" font-size="7.2" font-weight="bold" text-anchor="middle" fill="#1a1a1a" textLength="12.299999999999999" lengthAdjust="spacingAndGlyphs" stroke="#1a1a1a" stroke-width="0.22">400</text>
<line x1="252.00" y1="652.20" x2="252.00" y2="655.00" stroke="#000" stroke-width="1.1" stroke-linecap="butt"/>
<text x="251.99999999999997" y="663.2" font-size="7.2" font-weight="bold" text-anchor="middle" fill="#1a1a1a" textLength="12.299999999999999" lengthAdjust="spacingAndGlyphs" stroke="#1a1a1a" stroke-width="0.22">500</text>
<text x="162.5" y="679.4" font-size="9.8" font-weight="bold" text-anchor="middle" fill="#1a1a1a" textLength="30.8" lengthAdjust="spacingAndGlyphs" stroke="#1a1a1a" stroke-width="0.22">Time (s)</text>
<line x1="75.95" y1="605.50" x2="108.65" y2="605.50" stroke="#000" stroke-width="3" stroke-linecap="round"/>
<line x1="112.15" y1="597.90" x2="188.25" y2="597.90" stroke="#000" stroke-width="3" stroke-linecap="round"/>
<line x1="191.35" y1="590.30" x2="250.65" y2="590.30" stroke="#000" stroke-width="3" stroke-linecap="round"/>
<text x="256.2" y="593.0" font-size="6.4" font-weight="normal" text-anchor="start" fill="#1a1a1a" textLength="43.3" lengthAdjust="spacingAndGlyphs" stroke="#1a1a1a" stroke-width="0.35">ADPR (+30mV)</text>
<text x="256.2" y="601.9" font-size="6.4" font-weight="normal" text-anchor="start" fill="#1a1a1a" textLength="43.3" lengthAdjust="spacingAndGlyphs" stroke="#1a1a1a" stroke-width="0.35">ADPR (+20mV)</text>
<text x="256.2" y="610.5" font-size="6.4" font-weight="normal" text-anchor="start" fill="#1a1a1a" textLength="43.3" lengthAdjust="spacingAndGlyphs" stroke="#1a1a1a" stroke-width="0.35">ADPR (+10mV)</text>
<polyline points="71.60,637.93 72.20,637.96 72.80,639.81 73.41,637.56 74.01,638.71 74.61,638.58 75.21,638.40 75.82,638.68 76.42,638.36 77.02,638.74 77.62,638.63 78.23,638.49 78.83,637.82 79.43,639.48 80.03,638.88 80.64,639.03 81.24,638.57 81.84,638.59 82.44,640.11 83.05,638.73 83.65,639.15 84.25,639.85 84.85,638.67 85.46,639.17 86.06,638.68 86.66,638.99 87.26,639.33 87.87,638.87 88.47,638.68 89.07,639.23 89.67,638.91 90.28,638.54 90.88,639.12 91.48,639.86 92.08,639.38 92.69,638.98 93.29,639.26 93.89,638.84 94.49,639.51 95.10,639.22 95.70,639.47 96.30,639.30 97.10,645.16 97.70,645.09 98.30,645.24 98.90,645.81 99.50,645.86 100.18,646.79 100.87,648.16 101.55,644.71 102.23,646.78 102.92,647.08 103.60,646.90 104.40,639.49 105.20,638.33 106.00,637.35 106.66,637.89 107.32,637.55 107.98,637.12 108.64,637.03 109.30,637.10 110.30,622.07 111.00,620.28 111.70,619.16 112.38,619.10 113.07,619.84 113.75,620.50 114.43,619.39 115.12,620.11 115.80,620.96 116.41,620.65 117.03,620.79 117.64,620.61 118.26,620.77 118.87,620.42 119.49,621.12 120.10,620.75 120.71,620.25 121.33,621.12 121.94,620.97 122.56,621.62 123.17,621.19 123.79,621.69 124.40,621.62 125.01,621.18 125.61,620.96 126.22,621.37 126.83,621.12 127.43,621.26 128.04,621.32 128.64,620.98 129.25,621.04 129.86,620.31 130.46,619.64 131.07,620.04 131.68,620.38 132.28,620.60 132.89,620.01 133.49,619.65 134.10,620.04 134.71,620.07 135.32,620.85 135.94,620.61 136.55,620.65 137.16,621.77 137.78,621.52 138.39,621.52 139.00,622.70 139.61,621.59 140.21,622.73 140.82,622.14 141.43,621.30 142.03,622.22 142.64,622.60 143.24,622.63 143.85,622.12 144.46,622.42 145.06,622.45 145.67,622.61 146.27,622.22 146.88,622.11 147.49,622.12 148.09,622.39 148.70,621.51 149.50,623.22 150.30,622.90 150.95,625.87 151.60,628.95 152.27,629.50 152.93,631.19 153.60,630.72 154.20,630.65 154.80,630.67 155.40,630.60 156.00,630.71 156.80,627.09 157.60,624.66 158.45,624.50 159.30,623.61 159.94,623.45 160.57,624.05 161.21,624.19 161.84,622.04 162.48,623.40 163.11,623.72 163.75,623.48 164.39,623.98 165.02,624.25 165.66,624.07 166.29,625.71 166.93,623.77 167.56,624.70 168.20,624.03 168.81,623.66 169.41,624.40 170.02,623.71 170.62,625.84 171.23,624.21 171.84,624.17 172.44,624.31 173.05,623.86 173.66,623.25 174.26,624.99 174.87,625.70 175.47,625.24 176.08,625.30 176.69,625.16 177.29,625.44 177.90,625.48 178.55,626.11 179.20,624.31 179.85,625.20 180.50,625.33 181.15,625.22 181.80,625.60 182.45,625.00 183.10,625.61 183.75,625.06 184.40,625.06 185.08,625.19 185.77,626.06 186.45,626.72 187.13,627.22 187.82,627.19 188.50,627.90 189.30,628.70 190.10,611.72 190.70,611.50 191.30,611.76 191.90,612.79 192.50,612.39 193.15,613.17 193.81,612.56 194.46,612.56 195.12,612.47 195.77,612.65 196.43,611.96 197.08,611.32 197.74,612.33 198.39,612.36 199.05,611.50 199.70,611.82 200.31,611.88 200.92,611.79 201.54,611.10 202.15,611.26 202.76,610.54 203.38,610.51 203.99,610.98 204.60,611.43 205.21,610.61 205.82,610.55 206.44,610.62 207.05,609.76 207.66,610.88 208.28,610.65 208.89,611.22 209.50,611.00 210.13,613.20 210.77,615.13 211.40,616.35 212.00,615.24 212.60,614.78 213.20,614.21 213.80,613.59 214.40,611.77 215.09,612.61 215.77,613.00 216.46,612.60 217.14,612.23 217.83,611.81 218.51,612.53 219.20,612.15 219.87,613.48 220.53,614.04 221.20,615.10 222.10,620.90 223.10,627.57 223.75,628.57 224.40,628.20 225.05,629.00 225.70,626.48 226.35,629.33 227.00,629.15 227.72,628.84 228.45,627.53 229.18,627.67 229.90,627.70 230.90,619.96 231.57,618.43 232.23,617.01 232.90,616.79 233.60,615.38 234.30,615.17 235.00,615.51 235.70,615.06 236.40,615.50 237.30,627.43 237.98,626.67 238.66,627.24 239.34,627.47 240.02,627.17 240.70,627.84 241.40,628.66 242.10,627.31 242.80,627.67 243.50,626.98 244.20,626.86 244.85,619.14 245.50,611.66 246.22,612.15 246.95,612.98 247.68,612.43 248.40,612.70 249.12,613.40 249.84,612.98 250.56,612.84 251.28,613.02 252.00,613.10" fill="none" stroke="#D42A2A" stroke-width="0.95" stroke-linejoin="round" stroke-linecap="round"/>
<text x="337.0" y="607.6" font-size="9.8" font-weight="bold" text-anchor="start" fill="#1a1a1a" textLength="5.1" lengthAdjust="spacingAndGlyphs" stroke="#1a1a1a" stroke-width="0.22">h</text>
<text transform="translate(323.6 642.5) rotate(-90)" x="0" y="0" font-size="8.6" font-weight="normal" text-anchor="middle" fill="#1a1a1a" textLength="35.2" lengthAdjust="spacingAndGlyphs" stroke="#1a1a1a" stroke-width="0.35">(HEK293</text>
<text transform="translate(318.4 616.3) rotate(-90)" x="0" y="0" font-size="9.2" font-weight="normal" text-anchor="middle" fill="#1a1a1a" textLength="16.6" lengthAdjust="spacingAndGlyphs" stroke="#1a1a1a" stroke-width="0.35">TM8</text>
<text transform="translate(320.9 605.6) rotate(-90)" x="0" y="0" font-size="7.4" font-weight="normal" text-anchor="middle" fill="#1a1a1a" stroke="#1a1a1a" stroke-width="0.35">)</text>
<text transform="translate(342.8 637.8) rotate(-90)" x="0" y="0" font-size="8.9" font-weight="bold" text-anchor="middle" fill="#1a1a1a" textLength="23.2" lengthAdjust="spacingAndGlyphs" stroke="#1a1a1a" stroke-width="0.22">I (pA)</text>
<line x1="359.10" y1="612.00" x2="359.10" y2="657.70" stroke="#000" stroke-width="1.3" stroke-linecap="butt"/>
<line x1="358.50" y1="657.10" x2="539.50" y2="657.10" stroke="#000" stroke-width="1.3" stroke-linecap="butt"/>
<line x1="356.30" y1="657.10" x2="359.10" y2="657.10" stroke="#000" stroke-width="1" stroke-linecap="butt"/>
<line x1="357.50" y1="653.42" x2="359.10" y2="653.42" stroke="#000" stroke-width="0.9" stroke-linecap="butt"/>
<line x1="356.30" y1="649.73" x2="359.10" y2="649.73" stroke="#000" stroke-width="1" stroke-linecap="butt"/>
<line x1="357.50" y1="646.05" x2="359.10" y2="646.05" stroke="#000" stroke-width="0.9" stroke-linecap="butt"/>
<line x1="356.30" y1="642.36" x2="359.10" y2="642.36" stroke="#000" stroke-width="1" stroke-linecap="butt"/>
<line x1="357.50" y1="638.68" x2="359.10" y2="638.68" stroke="#000" stroke-width="0.9" stroke-linecap="butt"/>
<line x1="356.30" y1="634.99" x2="359.10" y2="634.99" stroke="#000" stroke-width="1" stroke-linecap="butt"/>
<line x1="357.50" y1="631.31" x2="359.10" y2="631.31" stroke="#000" stroke-width="0.9" stroke-linecap="butt"/>
<line x1="356.30" y1="627.62" x2="359.10" y2="627.62" stroke="#000" stroke-width="1" stroke-linecap="butt"/>
<line x1="357.50" y1="623.94" x2="359.10" y2="623.94" stroke="#000" stroke-width="0.9" stroke-linecap="butt"/>
<line x1="356.30" y1="620.25" x2="359.10" y2="620.25" stroke="#000" stroke-width="1" stroke-linecap="butt"/>
<line x1="357.50" y1="616.57" x2="359.10" y2="616.57" stroke="#000" stroke-width="0.9" stroke-linecap="butt"/>
<line x1="356.30" y1="612.88" x2="359.10" y2="612.88" stroke="#000" stroke-width="1" stroke-linecap="butt"/>
<text x="353.2" y="659.6" font-size="7.4" font-weight="bold" text-anchor="middle" fill="#1a1a1a" textLength="4.0" lengthAdjust="spacingAndGlyphs" stroke="#1a1a1a" stroke-width="0.22">0</text>
<text x="353.2" y="652.23" font-size="7.4" font-weight="bold" text-anchor="middle" fill="#1a1a1a" textLength="4.0" lengthAdjust="spacingAndGlyphs" stroke="#1a1a1a" stroke-width="0.22">1</text>
<text x="353.2" y="644.86" font-size="7.4" font-weight="bold" text-anchor="middle" fill="#1a1a1a" textLength="4.0" lengthAdjust="spacingAndGlyphs" stroke="#1a1a1a" stroke-width="0.22">2</text>
<text x="353.2" y="637.49" font-size="7.4" font-weight="bold" text-anchor="middle" fill="#1a1a1a" textLength="4.0" lengthAdjust="spacingAndGlyphs" stroke="#1a1a1a" stroke-width="0.22">3</text>
<text x="353.2" y="630.12" font-size="7.4" font-weight="bold" text-anchor="middle" fill="#1a1a1a" textLength="4.0" lengthAdjust="spacingAndGlyphs" stroke="#1a1a1a" stroke-width="0.22">4</text>
<text x="353.2" y="622.75" font-size="7.4" font-weight="bold" text-anchor="middle" fill="#1a1a1a" textLength="4.0" lengthAdjust="spacingAndGlyphs" stroke="#1a1a1a" stroke-width="0.22">5</text>
<text x="353.2" y="615.38" font-size="7.4" font-weight="bold" text-anchor="middle" fill="#1a1a1a" textLength="4.0" lengthAdjust="spacingAndGlyphs" stroke="#1a1a1a" stroke-width="0.22">6</text>
<line x1="359.10" y1="657.10" x2="359.10" y2="659.70" stroke="#000" stroke-width="1.1" stroke-linecap="butt"/>
<line x1="374.10" y1="657.10" x2="374.10" y2="658.70" stroke="#000" stroke-width="0.9" stroke-linecap="butt"/>
<text x="359.1" y="668.3" font-size="7" font-weight="bold" text-anchor="middle" fill="#1a1a1a" textLength="4" lengthAdjust="spacingAndGlyphs" stroke="#1a1a1a" stroke-width="0.22">0</text>
<line x1="389.10" y1="657.10" x2="389.10" y2="659.70" stroke="#000" stroke-width="1.1" stroke-linecap="butt"/>
<line x1="404.10" y1="657.10" x2="404.10" y2="658.70" stroke="#000" stroke-width="0.9" stroke-linecap="butt"/>
<text x="389.1" y="668.3" font-size="7" font-weight="bold" text-anchor="middle" fill="#1a1a1a" textLength="12" lengthAdjust="spacingAndGlyphs" stroke="#1a1a1a" stroke-width="0.22">200</text>
<line x1="419.10" y1="657.10" x2="419.10" y2="659.70" stroke="#000" stroke-width="1.1" stroke-linecap="butt"/>
<line x1="434.10" y1="657.10" x2="434.10" y2="658.70" stroke="#000" stroke-width="0.9" stroke-linecap="butt"/>
<text x="419.1" y="668.3" font-size="7" font-weight="bold" text-anchor="middle" fill="#1a1a1a" textLength="12" lengthAdjust="spacingAndGlyphs" stroke="#1a1a1a" stroke-width="0.22">400</text>
<line x1="449.10" y1="657.10" x2="449.10" y2="659.70" stroke="#000" stroke-width="1.1" stroke-linecap="butt"/>
<line x1="464.10" y1="657.10" x2="464.10" y2="658.70" stroke="#000" stroke-width="0.9" stroke-linecap="butt"/>
<text x="449.1" y="668.3" font-size="7" font-weight="bold" text-anchor="middle" fill="#1a1a1a" textLength="12" lengthAdjust="spacingAndGlyphs" stroke="#1a1a1a" stroke-width="0.22">600</text>
<line x1="479.10" y1="657.10" x2="479.10" y2="659.70" stroke="#000" stroke-width="1.1" stroke-linecap="butt"/>
<line x1="494.10" y1="657.10" x2="494.10" y2="658.70" stroke="#000" stroke-width="0.9" stroke-linecap="butt"/>
<text x="479.1" y="668.3" font-size="7" font-weight="bold" text-anchor="middle" fill="#1a1a1a" textLength="12" lengthAdjust="spacingAndGlyphs" stroke="#1a1a1a" stroke-width="0.22">800</text>
<line x1="509.10" y1="657.10" x2="509.10" y2="659.70" stroke="#000" stroke-width="1.1" stroke-linecap="butt"/>
<line x1="524.10" y1="657.10" x2="524.10" y2="658.70" stroke="#000" stroke-width="0.9" stroke-linecap="butt"/>
<text x="509.1" y="668.3" font-size="7" font-weight="bold" text-anchor="middle" fill="#1a1a1a" textLength="16" lengthAdjust="spacingAndGlyphs" stroke="#1a1a1a" stroke-width="0.22">1000</text>
<line x1="539.10" y1="657.10" x2="539.10" y2="659.70" stroke="#000" stroke-width="1.1" stroke-linecap="butt"/>
<text x="539.1" y="668.3" font-size="7" font-weight="bold" text-anchor="middle" fill="#1a1a1a" textLength="16" lengthAdjust="spacingAndGlyphs" stroke="#1a1a1a" stroke-width="0.22">1200</text>
<text x="449.6" y="683.3" font-size="9.8" font-weight="bold" text-anchor="middle" fill="#1a1a1a" textLength="31.7" lengthAdjust="spacingAndGlyphs" stroke="#1a1a1a" stroke-width="0.22">Time (s)</text>
<line x1="362.55" y1="613.00" x2="383.35" y2="613.00" stroke="#000" stroke-width="3" stroke-linecap="round"/>
<line x1="387.55" y1="603.80" x2="445.85" y2="603.80" stroke="#000" stroke-width="3" stroke-linecap="round"/>
<line x1="447.75" y1="595.50" x2="524.45" y2="595.50" stroke="#000" stroke-width="3" stroke-linecap="round"/>
<line x1="365.25" y1="587.40" x2="524.65" y2="587.40" stroke="#000" stroke-width="3" stroke-linecap="round"/>
<text x="528.6" y="589.6" font-size="8" font-weight="bold" text-anchor="start" fill="#1a1a1a" textLength="37.3" lengthAdjust="spacingAndGlyphs" stroke="#1a1a1a" stroke-width="0.22">(No ADPR)</text>
<text x="530.1" y="597.9" font-size="6.6" font-weight="normal" text-anchor="start" fill="#1a1a1a" textLength="20.7" lengthAdjust="spacingAndGlyphs" stroke="#1a1a1a" stroke-width="0.35">+30mV</text>
<text x="530.1" y="606.1" font-size="6.6" font-weight="normal" text-anchor="start" fill="#1a1a1a" textLength="20.7" lengthAdjust="spacingAndGlyphs" stroke="#1a1a1a" stroke-width="0.35">+20mV</text>
<text x="530.1" y="613.9" font-size="6.6" font-weight="normal" text-anchor="start" fill="#1a1a1a" textLength="20.7" lengthAdjust="spacingAndGlyphs" stroke="#1a1a1a" stroke-width="0.35">+10mV</text>
<polyline points="359.60,644.98 360.25,646.07 360.90,647.05 361.44,644.53 361.98,647.04 362.52,647.56 363.06,646.49 363.60,646.56 364.10,646.73 364.60,646.65 365.10,647.72 365.60,646.11 366.10,647.35 366.60,646.06 367.10,644.83 367.61,649.76 368.13,647.82 368.64,648.00 369.16,647.86 369.67,647.93 370.19,648.37 370.70,647.81 371.24,648.40 371.78,647.16 372.32,647.19 372.86,646.96 373.40,646.31 373.94,646.47 374.48,647.54 375.02,647.59 375.56,647.81 376.10,649.45 376.60,649.66 377.10,647.70 377.60,645.54 378.10,645.35 378.60,645.44 379.10,644.07 379.60,644.66 380.14,644.02 380.68,645.11 381.22,645.36 381.76,646.07 382.30,645.97 382.81,647.04 383.33,646.84 383.84,646.24 384.36,646.49 384.87,647.09 385.39,646.52 385.90,647.30 386.50,647.00 386.80,634.19 387.40,633.95 388.00,634.58 388.60,633.24 389.11,633.27 389.61,634.83 390.12,632.81 390.63,634.00 391.14,634.09 391.64,636.18 392.15,634.45 392.66,634.27 393.16,633.30 393.67,635.06 394.18,634.57 394.69,632.02 395.19,635.35 395.70,635.51 396.21,635.00 396.73,633.62 397.24,635.78 397.76,634.17 398.27,635.21 398.79,634.74 399.30,633.92 399.81,634.47 400.33,634.54 400.84,633.08 401.36,634.45 401.87,635.78 402.39,631.67 402.90,633.95 403.40,634.41 403.90,635.69 404.40,635.16 404.90,635.34 405.40,634.45 405.90,635.71 406.40,636.72 406.91,636.67 407.43,633.79 407.94,638.49 408.46,638.19 408.97,636.36 409.49,636.37 410.00,636.92 410.51,636.65 411.03,636.86 411.54,637.12 412.06,636.52 412.57,636.08 413.09,636.53 413.60,636.57 414.13,637.11 414.67,636.41 415.20,636.11 415.73,636.39 416.27,636.00 416.80,635.73 417.33,635.74 417.87,635.87 418.40,633.83 418.93,636.12 419.47,634.48 420.00,635.20 420.50,635.18 421.00,634.52 421.50,635.17 422.00,635.38 422.50,635.81 423.00,634.96 423.50,635.36 424.00,635.57 424.50,636.14 425.00,635.77 425.50,635.29 426.00,635.88 426.50,636.82 427.00,637.09 427.50,635.94 428.00,636.60 428.50,636.86 429.00,637.21 429.50,636.64 430.02,637.60 430.54,637.30 431.06,636.75 431.58,635.15 432.10,636.24 432.62,635.74 433.14,636.55 433.66,635.68 434.18,635.52 434.70,635.90 435.22,636.44 435.74,635.36 436.26,635.76 436.78,635.81 437.30,635.28 437.81,636.15 438.32,635.83 438.84,635.65 439.35,634.03 439.86,636.10 440.37,637.69 440.88,633.55 441.39,637.04 441.91,635.96 442.42,636.34 442.93,636.14 443.44,634.78 443.95,636.02 444.46,636.52 444.98,636.82 445.49,636.15 446.00,637.00 446.60,625.88 447.20,627.82 447.80,624.00 448.40,623.54 449.00,625.67 449.63,621.58 450.27,622.38 450.90,621.67 451.43,618.43 451.97,619.36 452.50,617.86 453.15,621.47 453.80,625.53 454.30,624.44 454.80,624.52 455.30,625.01 455.80,624.81 456.30,623.89 456.80,624.32 457.36,622.98 457.91,622.40 458.47,622.01 459.03,622.23 459.59,622.72 460.14,620.39 460.70,619.83 461.23,620.07 461.75,620.02 462.28,620.71 462.81,621.01 463.34,620.50 463.86,620.29 464.39,620.72 464.92,621.19 465.45,622.57 465.97,623.67 466.50,620.62 467.03,622.55 467.55,622.22 468.08,621.51 468.61,622.74 469.14,622.45 469.66,622.18 470.19,620.97 470.72,623.05 471.25,623.02 471.77,622.80 472.30,622.25 472.86,623.26 473.41,623.50 473.97,620.96 474.53,624.67 475.09,623.67 475.64,624.66 476.20,625.39 476.70,622.91 477.20,621.49 477.70,620.23 478.20,618.77 478.76,617.69 479.31,618.22 479.87,618.59 480.43,618.01 480.99,617.14 481.54,617.34 482.10,616.77 482.63,616.08 483.15,617.89 483.68,619.34 484.21,618.39 484.74,618.22 485.26,618.03 485.79,617.79 486.32,618.92 486.85,618.42 487.37,619.12 487.90,619.24 488.44,618.13 488.97,618.80 489.51,619.20 490.05,619.74 490.58,620.07 491.12,619.30 491.65,620.56 492.19,621.29 492.73,623.25 493.26,621.05 493.80,622.39 494.33,624.09 494.85,622.13 495.38,621.77 495.91,621.28 496.44,621.39 496.96,622.90 497.49,620.68 498.02,621.18 498.55,620.39 499.07,620.73 499.60,622.39 500.12,620.92 500.65,620.85 501.17,619.62 501.69,618.82 502.22,619.79 502.74,620.34 503.26,618.51 503.78,618.53 504.31,618.05 504.83,616.88 505.35,617.23 505.88,617.28 506.40,616.90 507.40,620.86 507.96,622.11 508.51,621.09 509.07,620.14 509.63,620.10 510.19,619.67 510.74,618.72 511.30,618.14 511.86,619.22 512.41,618.45 512.97,617.93 513.53,618.39 514.09,615.01 514.64,616.51 515.20,617.11 515.74,617.31 516.29,616.36 516.83,618.92 517.38,618.71 517.92,619.06 518.47,619.32 519.01,618.53 519.56,620.15 520.10,619.40" fill="none" stroke="#F01515" stroke-width="1.05" stroke-linejoin="round" stroke-linecap="round"/>
</svg></body></html>
